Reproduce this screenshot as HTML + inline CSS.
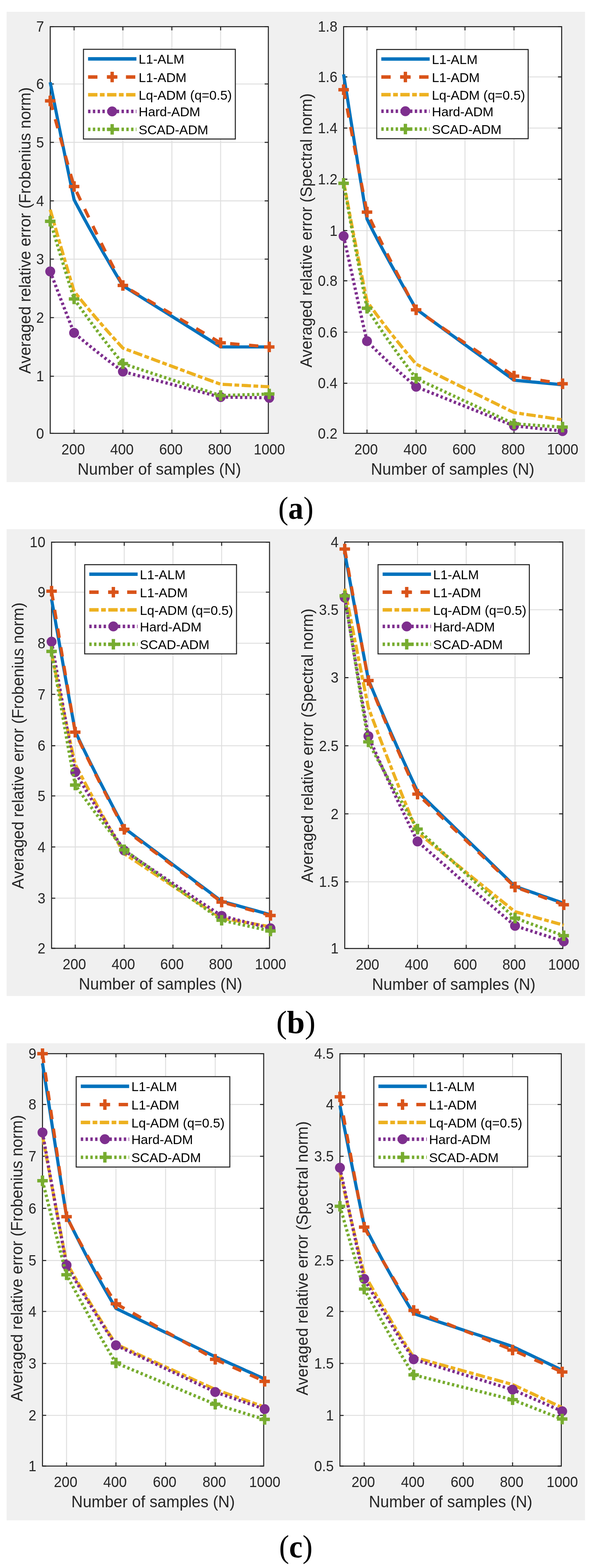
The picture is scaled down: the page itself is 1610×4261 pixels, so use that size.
<!DOCTYPE html>
<html><head><meta charset="utf-8"><title>Figure</title>
<style>html,body{margin:0;padding:0;background:#fff;}svg{display:block;}</style>
</head><body>
<svg width="1610" height="4261" viewBox="0 0 1610 4261" font-family="'Liberation Sans', Arial, Helvetica, sans-serif">
<rect width="1610" height="4261" fill="#fff"/>
<rect x="18" y="32" width="1573" height="1278" fill="#f0f0f0"/>
<rect x="18" y="1438" width="1573" height="1268.5" fill="#f0f0f0"/>
<rect x="18" y="2835" width="1573" height="1296.5" fill="#f0f0f0"/>
<rect x="136.6" y="72.5" width="593.2" height="1105.1" fill="#fff"/>
<path d="M201.5 72.5V1177.6M334.2 72.5V1177.6M467.4 72.5V1177.6M600.0 72.5V1177.6M136.6 1022.4H729.8M136.6 863.1H729.8M136.6 704.2H729.8M136.6 545.9H729.8M136.6 386.9H729.8M136.6 228.2H729.8" stroke="#dfdfdf" stroke-width="2.6" fill="none"/>
<path d="M201.5 1177.6v-10M201.5 72.5v10M334.2 1177.6v-10M334.2 72.5v10M467.4 1177.6v-10M467.4 72.5v10M600.0 1177.6v-10M600.0 72.5v10M136.6 1177.6h10M729.8 1177.6h-10M136.6 1022.4h10M729.8 1022.4h-10M136.6 863.1h10M729.8 863.1h-10M136.6 704.2h10M729.8 704.2h-10M136.6 545.9h10M729.8 545.9h-10M136.6 386.9h10M729.8 386.9h-10M136.6 228.2h10M729.8 228.2h-10M136.6 72.5h10M729.8 72.5h-10" stroke="#262626" stroke-width="2.8" fill="none"/>
<rect x="136.6" y="72.5" width="593.2" height="1105.1" fill="none" stroke="#262626" stroke-width="2.8"/>
<clipPath id="clipAL"><rect x="116.6" y="52.5" width="633.2" height="1145.1"/></clipPath>
<g><path d="M136.6 223.5L139.3 237.0L142.0 250.6L144.7 264.1L147.4 277.7L150.1 291.2L152.8 304.8L155.5 318.3L158.2 331.8L160.9 345.3L163.6 358.7L166.3 372.1L169.1 385.5L171.8 398.9L174.5 412.2L177.2 425.5L179.9 438.7L182.6 451.9L185.3 465.1L188.0 478.2L190.7 491.2L193.4 504.2L196.1 517.1L198.8 529.9L201.5 542.7L207.0 553.2L212.6 563.6L218.1 574.0L223.6 584.2L229.1 594.4L234.7 604.5L240.2 614.6L245.7 624.5L251.3 634.5L256.8 644.3L262.3 654.1L267.9 663.8L273.4 673.5L278.9 683.1L284.4 692.6L290.0 702.1L295.5 711.6L301.0 721.0L306.6 730.4L312.1 739.7L317.6 749.0L323.1 758.2L328.7 767.4L334.2 776.5L345.3 783.4L356.4 790.3L367.5 797.3L378.6 804.2L389.7 811.1L400.8 818.0L411.9 824.9L423.0 831.8L434.1 838.8L445.2 845.7L456.3 852.6L467.4 859.5L478.4 866.5L489.5 873.4L500.5 880.3L511.6 887.3L522.6 894.2L533.7 901.1L544.8 908.1L555.8 915.0L566.9 921.9L577.9 928.9L588.9 935.8L600.0 942.8L605.5 942.8L611.0 942.8L616.5 942.8L622.0 942.8L627.5 942.8L633.0 942.8L638.6 942.8L644.1 942.8L649.6 942.8L655.1 942.8L660.6 942.8L666.1 942.8L671.6 942.8L677.1 942.8L682.6 942.8L688.1 942.8L693.6 942.8L699.2 942.8L704.7 942.8L710.2 942.8L715.7 942.8L721.2 942.8L726.7 942.8L732.2 942.8" stroke="#0072BD" stroke-width="8.6" fill="none" stroke-linejoin="round"/><path d="M136.6 274.2L139.3 284.0L142.0 293.9L144.7 303.7L147.4 313.5L150.1 323.3L152.8 333.1L155.5 342.9L158.2 352.6L160.9 362.4L163.6 372.1L166.3 381.9L169.1 391.6L171.8 401.3L174.5 411.0L177.2 420.7L179.9 430.4L182.6 440.0L185.3 449.7L188.0 459.3L190.7 468.9L193.4 478.4L196.1 488.0L198.8 497.5L201.5 506.9L207.0 518.7L212.6 530.4L218.1 542.1L223.6 553.7L229.1 565.3L234.7 576.9L240.2 588.4L245.7 599.9L251.3 611.4L256.8 622.8L262.3 634.1L267.9 645.4L273.4 656.7L278.9 667.9L284.4 679.0L290.0 690.0L295.5 701.0L301.0 711.9L306.6 722.8L312.1 733.5L317.6 744.2L323.1 754.8L328.7 765.3L334.2 775.7L345.3 782.2L356.4 788.7L367.5 795.2L378.6 801.7L389.7 808.1L400.8 814.6L411.9 821.1L423.0 827.6L434.1 834.1L445.2 840.6L456.3 847.1L467.4 853.6L478.4 860.1L489.5 866.6L500.5 873.1L511.6 879.6L522.6 886.1L533.7 892.6L544.8 899.1L555.8 905.6L566.9 912.1L577.9 918.6L588.9 925.1L600.0 931.6L605.5 932.1L611.0 932.5L616.5 933.0L622.0 933.5L627.5 933.9L633.0 934.4L638.6 934.9L644.1 935.3L649.6 935.8L655.1 936.2L660.6 936.7L666.1 937.2L671.6 937.6L677.1 938.1L682.6 938.6L688.1 939.0L693.6 939.5L699.2 940.0L704.7 940.4L710.2 940.9L715.7 941.4L721.2 941.8L726.7 942.3L732.2 942.8" stroke="#D95319" stroke-width="8.6" fill="none" stroke-linejoin="round" stroke-dasharray="25.5 26"/><path d="M122.3 274.2H150.9M136.6 259.9V288.5" stroke="#D95319" stroke-width="9.2" fill="none"/><path d="M187.2 506.9H215.8M201.5 492.6V521.2" stroke="#D95319" stroke-width="9.2" fill="none"/><path d="M319.9 775.7H348.5M334.2 761.4V790.0" stroke="#D95319" stroke-width="9.2" fill="none"/><path d="M585.7 931.6H614.3M600.0 917.3V945.9" stroke="#D95319" stroke-width="9.2" fill="none"/><path d="M717.9 942.8H746.5M732.2 928.5V957.0" stroke="#D95319" stroke-width="9.2" fill="none"/><path d="M136.6 569.6L139.3 579.1L142.0 588.5L144.7 597.9L147.4 607.4L150.1 616.8L152.8 626.2L155.5 635.6L158.2 645.0L160.9 654.3L163.6 663.7L166.3 673.0L169.1 682.3L171.8 691.6L174.5 700.8L177.2 710.1L179.9 719.3L182.6 728.5L185.3 737.6L188.0 746.7L190.7 755.8L193.4 764.8L196.1 773.8L198.8 782.7L201.5 791.6L207.0 798.5L212.6 805.4L218.1 812.3L223.6 819.1L229.1 825.8L234.7 832.5L240.2 839.2L245.7 845.8L251.3 852.3L256.8 858.8L262.3 865.3L267.9 871.7L273.4 878.1L278.9 884.5L284.4 890.8L290.0 897.1L295.5 903.3L301.0 909.5L306.6 915.7L312.1 921.8L317.6 927.9L323.1 933.9L328.7 940.0L334.2 945.9L345.3 950.1L356.4 954.2L367.5 958.3L378.6 962.4L389.7 966.5L400.8 970.6L411.9 974.7L423.0 978.9L434.1 983.0L445.2 987.1L456.3 991.2L467.4 995.3L478.4 999.4L489.5 1003.5L500.5 1007.7L511.6 1011.8L522.6 1015.9L533.7 1020.0L544.8 1024.1L555.8 1028.1L566.9 1032.1L577.9 1036.1L588.9 1040.1L600.0 1044.1L605.5 1044.4L611.0 1044.7L616.5 1045.0L622.0 1045.3L627.5 1045.6L633.0 1045.9L638.6 1046.2L644.1 1046.5L649.6 1046.7L655.1 1047.0L660.6 1047.3L666.1 1047.6L671.6 1047.9L677.1 1048.2L682.6 1048.5L688.1 1048.8L693.6 1049.1L699.2 1049.4L704.7 1049.7L710.2 1049.9L715.7 1050.2L721.2 1050.5L726.7 1050.8L732.2 1051.1" stroke="#EDB120" stroke-width="8.6" fill="none" stroke-linejoin="round" stroke-dasharray="25.5 6.7 12.8 6.7"/><path d="M136.6 737.6L139.3 744.7L142.0 751.8L144.7 758.9L147.4 766.0L150.1 773.1L152.8 780.2L155.5 787.3L158.2 794.4L160.9 801.4L163.6 808.5L166.3 815.5L169.1 822.5L171.8 829.5L174.5 836.4L177.2 843.4L179.9 850.3L182.6 857.2L185.3 864.0L188.0 870.9L190.7 877.7L193.4 884.5L196.1 891.2L198.8 897.9L201.5 904.5L207.0 909.3L212.6 914.0L218.1 918.7L223.6 923.3L229.1 927.9L234.7 932.5L240.2 937.0L245.7 941.5L251.3 946.0L256.8 950.4L262.3 954.8L267.9 959.2L273.4 963.6L278.9 967.9L284.4 972.2L290.0 976.4L295.5 980.7L301.0 984.9L306.6 989.0L312.1 993.2L317.6 997.4L323.1 1001.5L328.7 1005.6L334.2 1009.7L345.3 1012.6L356.4 1015.6L367.5 1018.5L378.6 1021.5L389.7 1024.4L400.8 1027.2L411.9 1030.1L423.0 1033.0L434.1 1035.9L445.2 1038.8L456.3 1041.6L467.4 1044.5L478.4 1047.4L489.5 1050.3L500.5 1053.1L511.6 1056.0L522.6 1058.9L533.7 1061.8L544.8 1064.7L555.8 1067.5L566.9 1070.4L577.9 1073.3L588.9 1076.2L600.0 1079.0L605.5 1079.1L611.0 1079.2L616.5 1079.3L622.0 1079.4L627.5 1079.5L633.0 1079.6L638.6 1079.6L644.1 1079.7L649.6 1079.8L655.1 1079.9L660.6 1080.0L666.1 1080.1L671.6 1080.1L677.1 1080.2L682.6 1080.3L688.1 1080.4L693.6 1080.5L699.2 1080.6L704.7 1080.6L710.2 1080.7L715.7 1080.8L721.2 1080.9L726.7 1081.0L732.2 1081.1" stroke="#7E2F8E" stroke-width="8.6" fill="none" stroke-linejoin="round" stroke-dasharray="6.5 6.5"/><circle cx="136.6" cy="737.6" r="13.5" fill="#7E2F8E"/><circle cx="201.5" cy="904.5" r="13.5" fill="#7E2F8E"/><circle cx="334.2" cy="1009.7" r="13.5" fill="#7E2F8E"/><circle cx="600.0" cy="1079.0" r="13.5" fill="#7E2F8E"/><circle cx="732.2" cy="1081.1" r="13.5" fill="#7E2F8E"/><path d="M136.6 601.3L139.3 610.2L142.0 619.2L144.7 628.1L147.4 637.1L150.1 646.0L152.8 654.9L155.5 663.8L158.2 672.7L160.9 681.6L163.6 690.4L166.3 699.3L169.1 708.1L171.8 717.0L174.5 725.8L177.2 734.6L179.9 743.3L182.6 752.1L185.3 760.8L188.0 769.4L190.7 778.1L193.4 786.7L196.1 795.2L198.8 803.8L201.5 812.3L207.0 820.1L212.6 827.9L218.1 835.6L223.6 843.3L229.1 851.0L234.7 858.6L240.2 866.2L245.7 873.8L251.3 881.3L256.8 888.8L262.3 896.2L267.9 903.6L273.4 910.9L278.9 918.2L284.4 925.5L290.0 932.6L295.5 939.8L301.0 946.9L306.6 953.9L312.1 960.9L317.6 967.8L323.1 974.6L328.7 981.4L334.2 988.2L345.3 991.8L356.4 995.5L367.5 999.2L378.6 1002.8L389.7 1006.5L400.8 1010.2L411.9 1013.8L423.0 1017.5L434.1 1021.2L445.2 1024.8L456.3 1028.4L467.4 1031.9L478.4 1035.5L489.5 1039.1L500.5 1042.7L511.6 1046.2L522.6 1049.8L533.7 1053.4L544.8 1057.0L555.8 1060.6L566.9 1064.1L577.9 1067.7L588.9 1071.3L600.0 1074.9L605.5 1074.7L611.0 1074.5L616.5 1074.3L622.0 1074.2L627.5 1074.0L633.0 1073.8L638.6 1073.6L644.1 1073.5L649.6 1073.3L655.1 1073.1L660.6 1072.9L666.1 1072.8L671.6 1072.6L677.1 1072.4L682.6 1072.2L688.1 1072.1L693.6 1071.9L699.2 1071.7L704.7 1071.5L710.2 1071.4L715.7 1071.2L721.2 1071.0L726.7 1070.8L732.2 1070.7" stroke="#77AC30" stroke-width="8.6" fill="none" stroke-linejoin="round" stroke-dasharray="6.5 6.5"/><path d="M122.3 601.3H150.9M136.6 587.0V615.6" stroke="#77AC30" stroke-width="9.2" fill="none"/><path d="M187.2 812.3H215.8M201.5 798.0V826.6" stroke="#77AC30" stroke-width="9.2" fill="none"/><path d="M319.9 988.2H348.5M334.2 973.9V1002.5" stroke="#77AC30" stroke-width="9.2" fill="none"/><path d="M585.7 1074.9H614.3M600.0 1060.6V1089.2" stroke="#77AC30" stroke-width="9.2" fill="none"/><path d="M717.9 1070.7H746.5M732.2 1056.4V1085.0" stroke="#77AC30" stroke-width="9.2" fill="none"/></g>
<g font-size="41" fill="#262626"><text transform="translate(199.0 1235.0) scale(0.935 1)" text-anchor="middle">200</text><text transform="translate(331.7 1235.0) scale(0.935 1)" text-anchor="middle">400</text><text transform="translate(464.9 1235.0) scale(0.935 1)" text-anchor="middle">600</text><text transform="translate(597.5 1235.0) scale(0.935 1)" text-anchor="middle">800</text><text transform="translate(732.5 1235.0) scale(0.935 1)" text-anchor="middle">1000</text><text transform="translate(119.8 1191.5) scale(0.935 1)" text-anchor="end">0</text><text transform="translate(119.8 1036.3) scale(0.935 1)" text-anchor="end">1</text><text transform="translate(119.8 877.0) scale(0.935 1)" text-anchor="end">2</text><text transform="translate(119.8 718.1) scale(0.935 1)" text-anchor="end">3</text><text transform="translate(119.8 559.8) scale(0.935 1)" text-anchor="end">4</text><text transform="translate(119.8 400.8) scale(0.935 1)" text-anchor="end">5</text><text transform="translate(119.8 242.1) scale(0.935 1)" text-anchor="end">6</text><text transform="translate(119.8 86.4) scale(0.935 1)" text-anchor="end">7</text></g>
<text transform="translate(433.2 1289.9) scale(0.956 1)" text-anchor="middle" font-size="45" fill="#262626">Number of samples (N)</text>
<text transform="translate(82.9 626.5) rotate(-90) scale(0.956 1)" text-anchor="middle" font-size="45" fill="#262626">Averaged relative error (Frobenius norm)</text>
<rect x="227.0" y="134.0" width="413.0" height="243.8" fill="#fff" stroke="#262626" stroke-width="2.8"/>
<path d="M239.5 160.0H371.0" stroke="#0072BD" stroke-width="9.4" fill="none"/>
<text x="377.0" y="173.3" font-size="35.5" fill="#000">L1-ALM</text>
<path d="M239.5 209.2H371.0" stroke="#D95319" stroke-width="9.4" fill="none" stroke-dasharray="25.5 26"/>
<path d="M290.7 209.2H319.3M305.0 194.9V223.5" stroke="#D95319" stroke-width="9.2" fill="none"/>
<text x="377.0" y="222.5" font-size="35.5" fill="#000">L1-ADM</text>
<path d="M239.5 257.5H371.0" stroke="#EDB120" stroke-width="9.4" fill="none" stroke-dasharray="25.5 6.7 12.8 6.7"/>
<text x="377.0" y="270.8" font-size="35.5" fill="#000">Lq-ADM (q=0.5)</text>
<path d="M239.5 302.8H371.0" stroke="#7E2F8E" stroke-width="9.4" fill="none" stroke-dasharray="6.5 6.5"/>
<circle cx="305.0" cy="302.8" r="13.5" fill="#7E2F8E"/>
<text x="377.0" y="316.1" font-size="35.5" fill="#000">Hard-ADM</text>
<path d="M239.5 351.5H371.0" stroke="#77AC30" stroke-width="9.4" fill="none" stroke-dasharray="6.5 6.5"/>
<path d="M290.7 351.5H319.3M305.0 337.2V365.8" stroke="#77AC30" stroke-width="9.2" fill="none"/>
<text x="377.0" y="364.8" font-size="35.5" fill="#000">SCAD-ADM</text>
<rect x="934.5" y="72.5" width="593.0" height="1105.1" fill="#fff"/>
<path d="M998.1 72.5V1177.6M1131.7 72.5V1177.6M1264.6 72.5V1177.6M1397.9 72.5V1177.6M934.5 1041.5H1527.5M934.5 902.7H1527.5M934.5 763.0H1527.5M934.5 626.7H1527.5M934.5 487.0H1527.5M934.5 348.0H1527.5M934.5 209.0H1527.5" stroke="#dfdfdf" stroke-width="2.6" fill="none"/>
<path d="M998.1 1177.6v-10M998.1 72.5v10M1131.7 1177.6v-10M1131.7 72.5v10M1264.6 1177.6v-10M1264.6 72.5v10M1397.9 1177.6v-10M1397.9 72.5v10M934.5 1177.6h10M1527.5 1177.6h-10M934.5 1041.5h10M1527.5 1041.5h-10M934.5 902.7h10M1527.5 902.7h-10M934.5 763.0h10M1527.5 763.0h-10M934.5 626.7h10M1527.5 626.7h-10M934.5 487.0h10M1527.5 487.0h-10M934.5 348.0h10M1527.5 348.0h-10M934.5 209.0h10M1527.5 209.0h-10M934.5 72.5h10M1527.5 72.5h-10" stroke="#262626" stroke-width="2.8" fill="none"/>
<rect x="934.5" y="72.5" width="593.0" height="1105.1" fill="none" stroke="#262626" stroke-width="2.8"/>
<clipPath id="clipAR"><rect x="914.5" y="52.5" width="633.0" height="1145.1"/></clipPath>
<g><path d="M934.5 202.2L937.1 218.8L939.8 235.5L942.5 252.3L945.1 269.0L947.8 285.7L950.4 302.4L953.0 319.1L955.7 335.7L958.4 352.3L961.0 368.9L963.6 385.4L966.3 401.9L969.0 418.4L971.6 434.8L974.2 451.1L976.9 467.4L979.5 483.6L982.2 499.8L984.9 515.9L987.5 532.0L990.1 547.9L992.8 563.8L995.5 579.6L998.1 595.3L1003.7 606.5L1009.2 617.6L1014.8 628.6L1020.4 639.3L1025.9 649.9L1031.5 660.4L1037.1 670.8L1042.6 681.1L1048.2 691.3L1053.8 701.5L1059.3 711.6L1064.9 721.6L1070.5 731.6L1076.0 741.5L1081.6 751.4L1087.2 761.2L1092.7 771.1L1098.3 781.1L1103.9 790.9L1109.4 800.8L1115.0 810.6L1120.6 820.4L1126.1 830.1L1131.7 839.8L1142.8 847.9L1153.8 856.0L1164.9 864.1L1176.0 872.2L1187.1 880.3L1198.2 888.4L1209.2 896.5L1220.3 904.6L1231.4 912.6L1242.4 920.6L1253.5 928.7L1264.6 936.7L1275.7 944.7L1286.8 952.8L1297.9 960.8L1309.0 968.9L1320.1 976.9L1331.2 984.9L1342.4 993.0L1353.5 1001.0L1364.6 1009.1L1375.7 1017.1L1386.8 1025.1L1397.9 1033.2L1403.4 1033.7L1408.9 1034.2L1414.4 1034.7L1419.9 1035.3L1425.4 1035.8L1430.9 1036.3L1436.4 1036.8L1441.9 1037.3L1447.4 1037.9L1452.9 1038.4L1458.4 1038.9L1463.9 1039.4L1469.4 1039.9L1474.9 1040.5L1480.4 1041.0L1485.9 1041.5L1491.4 1042.0L1496.9 1042.5L1502.4 1043.0L1507.9 1043.5L1513.4 1044.1L1518.9 1044.6L1524.4 1045.1L1529.9 1045.6" stroke="#0072BD" stroke-width="8.6" fill="none" stroke-linejoin="round"/><path d="M934.5 243.8L937.1 257.9L939.8 272.0L942.5 286.1L945.1 300.2L947.8 314.3L950.4 328.4L953.0 342.4L955.7 356.4L958.4 370.5L961.0 384.4L963.6 398.4L966.3 412.3L969.0 426.2L971.6 440.1L974.2 453.9L976.9 467.7L979.5 481.4L982.2 495.1L984.9 508.8L987.5 522.4L990.1 536.0L992.8 549.6L995.5 563.0L998.1 576.4L1003.7 588.4L1009.2 600.3L1014.8 612.2L1020.4 624.0L1025.9 635.5L1031.5 646.8L1037.1 658.1L1042.6 669.3L1048.2 680.5L1053.8 691.6L1059.3 702.6L1064.9 713.6L1070.5 724.4L1076.0 735.3L1081.6 746.0L1087.2 756.7L1092.7 767.5L1098.3 778.3L1103.9 789.1L1109.4 799.8L1115.0 810.4L1120.6 821.0L1126.1 831.5L1131.7 841.9L1142.8 849.5L1153.8 857.0L1164.9 864.5L1176.0 872.1L1187.1 879.6L1198.2 887.2L1209.2 894.7L1220.3 902.2L1231.4 909.7L1242.4 917.2L1253.5 924.7L1264.6 932.2L1275.7 939.7L1286.8 947.2L1297.9 954.7L1309.0 962.2L1320.1 969.6L1331.2 977.1L1342.4 984.6L1353.5 992.1L1364.6 999.6L1375.7 1007.1L1386.8 1014.6L1397.9 1022.1L1403.4 1022.9L1408.9 1023.8L1414.4 1024.7L1419.9 1025.5L1425.4 1026.4L1430.9 1027.3L1436.4 1028.1L1441.9 1029.0L1447.4 1029.9L1452.9 1030.7L1458.4 1031.6L1463.9 1032.5L1469.4 1033.3L1474.9 1034.2L1480.4 1035.1L1485.9 1035.9L1491.4 1036.8L1496.9 1037.7L1502.4 1038.6L1507.9 1039.4L1513.4 1040.3L1518.9 1041.2L1524.4 1042.0L1529.9 1042.9" stroke="#D95319" stroke-width="8.6" fill="none" stroke-linejoin="round" stroke-dasharray="25.5 26"/><path d="M920.2 243.8H948.8M934.5 229.4V258.1" stroke="#D95319" stroke-width="9.2" fill="none"/><path d="M983.8 576.4H1012.4M998.1 562.1V590.7" stroke="#D95319" stroke-width="9.2" fill="none"/><path d="M1117.4 841.9H1146.0M1131.7 827.6V856.2" stroke="#D95319" stroke-width="9.2" fill="none"/><path d="M1383.6 1022.1H1412.2M1397.9 1007.8V1036.4" stroke="#D95319" stroke-width="9.2" fill="none"/><path d="M1515.6 1042.9H1544.2M1529.9 1028.6V1057.2" stroke="#D95319" stroke-width="9.2" fill="none"/><path d="M934.5 494.0L937.1 508.0L939.8 522.0L942.5 536.0L945.1 550.1L947.8 564.1L950.4 578.1L953.0 592.0L955.7 606.0L958.4 619.9L961.0 633.6L963.6 647.1L966.3 660.6L969.0 674.0L971.6 687.4L974.2 700.7L976.9 714.0L979.5 727.2L982.2 740.3L984.9 753.4L987.5 766.5L990.1 779.7L992.8 792.9L995.5 805.9L998.1 818.9L1003.7 826.7L1009.2 834.5L1014.8 842.1L1020.4 849.7L1025.9 857.2L1031.5 864.7L1037.1 872.0L1042.6 879.4L1048.2 886.6L1053.8 893.8L1059.3 900.9L1064.9 908.0L1070.5 914.9L1076.0 921.9L1081.6 928.8L1087.2 935.6L1092.7 942.5L1098.3 949.2L1103.9 956.0L1109.4 962.7L1115.0 969.4L1120.6 976.1L1126.1 982.8L1131.7 989.5L1142.8 995.0L1153.8 1000.6L1164.9 1006.1L1176.0 1011.7L1187.1 1017.2L1198.2 1022.8L1209.2 1028.3L1220.3 1033.9L1231.4 1039.4L1242.4 1044.9L1253.5 1050.3L1264.6 1055.8L1275.7 1061.2L1286.8 1066.7L1297.9 1072.1L1309.0 1077.6L1320.1 1083.0L1331.2 1088.5L1342.4 1093.9L1353.5 1099.3L1364.6 1104.8L1375.7 1110.2L1386.8 1115.7L1397.9 1121.1L1403.4 1121.9L1408.9 1122.8L1414.4 1123.6L1419.9 1124.4L1425.4 1125.2L1430.9 1126.1L1436.4 1126.9L1441.9 1127.7L1447.4 1128.5L1452.9 1129.3L1458.4 1130.2L1463.9 1131.0L1469.4 1131.8L1474.9 1132.6L1480.4 1133.5L1485.9 1134.3L1491.4 1135.1L1496.9 1135.9L1502.4 1136.7L1507.9 1137.6L1513.4 1138.4L1518.9 1139.2L1524.4 1140.0L1529.9 1140.9" stroke="#EDB120" stroke-width="8.6" fill="none" stroke-linejoin="round" stroke-dasharray="25.5 6.7 12.8 6.7"/><path d="M934.5 641.7L937.1 653.7L939.8 665.8L942.5 677.8L945.1 689.9L947.8 701.9L950.4 713.9L953.0 725.9L955.7 737.9L958.4 749.8L961.0 761.8L963.6 773.9L966.3 786.1L969.0 798.2L971.6 810.2L974.2 822.2L976.9 834.2L979.5 846.1L982.2 857.9L984.9 869.6L987.5 881.3L990.1 892.9L992.8 904.4L995.5 915.7L998.1 927.0L1003.7 932.7L1009.2 938.4L1014.8 944.0L1020.4 949.5L1025.9 955.0L1031.5 960.4L1037.1 965.7L1042.6 971.0L1048.2 976.3L1053.8 981.5L1059.3 986.6L1064.9 991.7L1070.5 996.8L1076.0 1001.9L1081.6 1006.9L1087.2 1011.9L1092.7 1016.8L1098.3 1021.8L1103.9 1026.7L1109.4 1031.6L1115.0 1036.5L1120.6 1041.4L1126.1 1046.2L1131.7 1051.0L1142.8 1055.5L1153.8 1059.9L1164.9 1064.3L1176.0 1068.7L1187.1 1073.1L1198.2 1077.6L1209.2 1082.0L1220.3 1086.4L1231.4 1090.8L1242.4 1095.3L1253.5 1099.7L1264.6 1104.1L1275.7 1108.5L1286.8 1113.0L1297.9 1117.4L1309.0 1121.8L1320.1 1126.2L1331.2 1130.6L1342.4 1135.1L1353.5 1139.5L1364.6 1143.9L1375.7 1148.3L1386.8 1152.8L1397.9 1157.2L1403.4 1157.8L1408.9 1158.4L1414.4 1159.0L1419.9 1159.6L1425.4 1160.2L1430.9 1160.8L1436.4 1161.4L1441.9 1161.9L1447.4 1162.5L1452.9 1163.1L1458.4 1163.7L1463.9 1164.3L1469.4 1164.9L1474.9 1165.5L1480.4 1166.1L1485.9 1166.7L1491.4 1167.3L1496.9 1167.9L1502.4 1168.5L1507.9 1169.1L1513.4 1169.7L1518.9 1170.3L1524.4 1170.9L1529.9 1171.5" stroke="#7E2F8E" stroke-width="8.6" fill="none" stroke-linejoin="round" stroke-dasharray="6.5 6.5"/><circle cx="934.5" cy="641.7" r="13.5" fill="#7E2F8E"/><circle cx="998.1" cy="927.0" r="13.5" fill="#7E2F8E"/><circle cx="1131.7" cy="1051.0" r="13.5" fill="#7E2F8E"/><circle cx="1397.9" cy="1157.2" r="13.5" fill="#7E2F8E"/><circle cx="1529.9" cy="1171.5" r="13.5" fill="#7E2F8E"/><path d="M934.5 498.2L937.1 512.8L939.8 527.5L942.5 542.1L945.1 556.7L947.8 571.3L950.4 585.9L953.0 600.5L955.7 615.1L958.4 629.5L961.0 643.7L963.6 657.8L966.3 671.9L969.0 685.9L971.6 699.8L974.2 713.8L976.9 727.6L979.5 741.4L982.2 755.2L984.9 769.0L987.5 782.9L990.1 796.7L992.8 810.5L995.5 824.2L998.1 837.7L1003.7 846.5L1009.2 855.1L1014.8 863.7L1020.4 872.2L1025.9 880.6L1031.5 888.9L1037.1 897.2L1042.6 905.4L1048.2 913.4L1053.8 921.5L1059.3 929.4L1064.9 937.3L1070.5 945.1L1076.0 952.9L1081.6 960.7L1087.2 968.3L1092.7 976.0L1098.3 983.6L1103.9 991.1L1109.4 998.6L1115.0 1006.1L1120.6 1013.5L1126.1 1020.9L1131.7 1028.3L1142.8 1033.5L1153.8 1038.8L1164.9 1044.0L1176.0 1049.1L1187.1 1054.2L1198.2 1059.4L1209.2 1064.5L1220.3 1069.6L1231.4 1074.8L1242.4 1079.9L1253.5 1085.0L1264.6 1090.2L1275.7 1095.3L1286.8 1100.4L1297.9 1105.6L1309.0 1110.7L1320.1 1115.8L1331.2 1120.9L1342.4 1126.1L1353.5 1131.2L1364.6 1136.3L1375.7 1141.5L1386.8 1146.6L1397.9 1151.7L1403.4 1152.1L1408.9 1152.5L1414.4 1152.8L1419.9 1153.2L1425.4 1153.6L1430.9 1154.0L1436.4 1154.3L1441.9 1154.7L1447.4 1155.1L1452.9 1155.4L1458.4 1155.8L1463.9 1156.2L1469.4 1156.5L1474.9 1156.9L1480.4 1157.3L1485.9 1157.6L1491.4 1158.0L1496.9 1158.4L1502.4 1158.7L1507.9 1159.1L1513.4 1159.5L1518.9 1159.9L1524.4 1160.2L1529.9 1160.6" stroke="#77AC30" stroke-width="8.6" fill="none" stroke-linejoin="round" stroke-dasharray="6.5 6.5"/><path d="M920.2 498.2H948.8M934.5 483.9V512.5" stroke="#77AC30" stroke-width="9.2" fill="none"/><path d="M983.8 837.7H1012.4M998.1 823.4V852.0" stroke="#77AC30" stroke-width="9.2" fill="none"/><path d="M1117.4 1028.3H1146.0M1131.7 1014.0V1042.6" stroke="#77AC30" stroke-width="9.2" fill="none"/><path d="M1383.6 1151.7H1412.2M1397.9 1137.4V1166.0" stroke="#77AC30" stroke-width="9.2" fill="none"/><path d="M1515.6 1160.6H1544.2M1529.9 1146.3V1174.9" stroke="#77AC30" stroke-width="9.2" fill="none"/></g>
<g font-size="41" fill="#262626"><text transform="translate(995.6 1235.0) scale(0.935 1)" text-anchor="middle">200</text><text transform="translate(1129.2 1235.0) scale(0.935 1)" text-anchor="middle">400</text><text transform="translate(1262.1 1235.0) scale(0.935 1)" text-anchor="middle">600</text><text transform="translate(1395.4 1235.0) scale(0.935 1)" text-anchor="middle">800</text><text transform="translate(1530.2 1235.0) scale(0.935 1)" text-anchor="middle">1000</text><text transform="translate(917.7 1191.5) scale(0.935 1)" text-anchor="end">0.2</text><text transform="translate(917.7 1055.4) scale(0.935 1)" text-anchor="end">0.4</text><text transform="translate(917.7 916.6) scale(0.935 1)" text-anchor="end">0.6</text><text transform="translate(917.7 776.9) scale(0.935 1)" text-anchor="end">0.8</text><text transform="translate(917.7 640.6) scale(0.935 1)" text-anchor="end">1</text><text transform="translate(917.7 500.9) scale(0.935 1)" text-anchor="end">1.2</text><text transform="translate(917.7 361.9) scale(0.935 1)" text-anchor="end">1.4</text><text transform="translate(917.7 222.9) scale(0.935 1)" text-anchor="end">1.6</text><text transform="translate(917.7 86.4) scale(0.935 1)" text-anchor="end">1.8</text></g>
<text transform="translate(1231.0 1289.9) scale(0.956 1)" text-anchor="middle" font-size="45" fill="#262626">Number of samples (N)</text>
<text transform="translate(847.8 626.3) rotate(-90) scale(0.956 1)" text-anchor="middle" font-size="45" fill="#262626">Averaged relative error (Spectral norm)</text>
<rect x="1024.5" y="134.5" width="411.9" height="242.4" fill="#fff" stroke="#262626" stroke-width="2.8"/>
<path d="M1037.0 160.4H1168.5" stroke="#0072BD" stroke-width="9.4" fill="none"/>
<text x="1174.5" y="173.7" font-size="35.5" fill="#000">L1-ALM</text>
<path d="M1037.0 209.3H1168.5" stroke="#D95319" stroke-width="9.4" fill="none" stroke-dasharray="25.5 26"/>
<path d="M1088.2 209.3H1116.8M1102.5 195.0V223.6" stroke="#D95319" stroke-width="9.2" fill="none"/>
<text x="1174.5" y="222.6" font-size="35.5" fill="#000">L1-ADM</text>
<path d="M1037.0 257.3H1168.5" stroke="#EDB120" stroke-width="9.4" fill="none" stroke-dasharray="25.5 6.7 12.8 6.7"/>
<text x="1174.5" y="270.6" font-size="35.5" fill="#000">Lq-ADM (q=0.5)</text>
<path d="M1037.0 302.3H1168.5" stroke="#7E2F8E" stroke-width="9.4" fill="none" stroke-dasharray="6.5 6.5"/>
<circle cx="1102.5" cy="302.3" r="13.5" fill="#7E2F8E"/>
<text x="1174.5" y="315.6" font-size="35.5" fill="#000">Hard-ADM</text>
<path d="M1037.0 350.8H1168.5" stroke="#77AC30" stroke-width="9.4" fill="none" stroke-dasharray="6.5 6.5"/>
<path d="M1088.2 350.8H1116.8M1102.5 336.5V365.1" stroke="#77AC30" stroke-width="9.2" fill="none"/>
<text x="1174.5" y="364.1" font-size="35.5" fill="#000">SCAD-ADM</text>
<rect x="140.3" y="1473.3" width="592.7" height="1103.7" fill="#fff"/>
<path d="M204.6 1473.3V2577.0M337.9 1473.3V2577.0M470.3 1473.3V2577.0M602.8 1473.3V2577.0M140.3 2440.8H733.0M140.3 2301.6H733.0M140.3 2162.9H733.0M140.3 2026.5H733.0M140.3 1886.9H733.0M140.3 1748.0H733.0M140.3 1609.2H733.0" stroke="#dfdfdf" stroke-width="2.6" fill="none"/>
<path d="M204.6 2577.0v-10M204.6 1473.3v10M337.9 2577.0v-10M337.9 1473.3v10M470.3 2577.0v-10M470.3 1473.3v10M602.8 2577.0v-10M602.8 1473.3v10M140.3 2577.0h10M733.0 2577.0h-10M140.3 2440.8h10M733.0 2440.8h-10M140.3 2301.6h10M733.0 2301.6h-10M140.3 2162.9h10M733.0 2162.9h-10M140.3 2026.5h10M733.0 2026.5h-10M140.3 1886.9h10M733.0 1886.9h-10M140.3 1748.0h10M733.0 1748.0h-10M140.3 1609.2h10M733.0 1609.2h-10M140.3 1473.3h10M733.0 1473.3h-10" stroke="#262626" stroke-width="2.8" fill="none"/>
<rect x="140.3" y="1473.3" width="592.7" height="1103.7" fill="none" stroke="#262626" stroke-width="2.8"/>
<clipPath id="clipBL"><rect x="120.3" y="1453.3" width="632.7" height="1143.7"/></clipPath>
<g><path d="M140.3 1628.6L143.0 1643.9L145.7 1659.1L148.3 1674.3L151.0 1689.5L153.7 1704.7L156.4 1719.9L159.1 1735.1L161.7 1750.3L164.4 1765.4L167.1 1780.5L169.8 1795.6L172.4 1810.6L175.1 1825.6L177.8 1840.5L180.5 1855.4L183.2 1870.3L185.8 1885.1L188.5 1899.9L191.2 1914.7L193.9 1929.4L196.6 1944.0L199.2 1958.5L201.9 1973.0L204.6 1987.4L210.2 1999.4L215.7 2011.2L221.3 2023.0L226.8 2034.5L232.4 2045.9L237.9 2057.2L243.5 2068.4L249.0 2079.5L254.6 2090.5L260.1 2101.5L265.7 2112.4L271.2 2123.3L276.8 2134.1L282.4 2144.8L287.9 2155.4L293.5 2166.1L299.0 2176.8L304.6 2187.4L310.1 2198.0L315.7 2208.6L321.2 2219.1L326.8 2229.5L332.3 2239.9L337.9 2250.3L348.9 2258.5L360.0 2266.8L371.0 2275.1L382.0 2283.3L393.1 2291.6L404.1 2299.9L415.1 2308.2L426.2 2316.4L437.2 2324.7L448.2 2333.0L459.3 2341.3L470.3 2349.6L481.3 2357.9L492.4 2366.2L503.4 2374.5L514.5 2382.8L525.5 2391.1L536.5 2399.4L547.6 2407.7L558.6 2416.0L569.7 2424.3L580.7 2432.6L591.8 2440.9L602.8 2449.0L608.3 2450.5L613.9 2452.0L619.4 2453.6L624.9 2455.1L630.4 2456.6L636.0 2458.2L641.5 2459.7L647.0 2461.2L652.6 2462.8L658.1 2464.3L663.6 2465.8L669.1 2467.4L674.7 2468.9L680.2 2470.4L685.7 2472.0L691.3 2473.5L696.8 2475.0L702.3 2476.6L707.9 2478.1L713.4 2479.6L718.9 2481.1L724.4 2482.7L730.0 2484.2L735.5 2485.7" stroke="#0072BD" stroke-width="8.6" fill="none" stroke-linejoin="round"/><path d="M140.3 1606.5L143.0 1622.7L145.7 1639.0L148.3 1655.3L151.0 1671.5L153.7 1687.8L156.4 1704.0L159.1 1720.3L161.7 1736.5L164.4 1752.6L167.1 1768.8L169.8 1784.9L172.4 1800.9L175.1 1817.0L177.8 1832.9L180.5 1848.9L183.2 1864.7L185.8 1880.5L188.5 1896.3L191.2 1912.1L193.9 1927.7L196.6 1943.3L199.2 1958.9L201.9 1974.3L204.6 1989.6L210.2 2001.7L215.7 2013.7L221.3 2025.5L226.8 2037.1L232.4 2048.5L237.9 2059.8L243.5 2071.1L249.0 2082.2L254.6 2093.3L260.1 2104.4L265.7 2115.3L271.2 2126.2L276.8 2137.0L282.4 2147.7L287.9 2158.4L293.5 2169.2L299.0 2179.9L304.6 2190.6L310.1 2201.2L315.7 2211.8L321.2 2222.3L326.8 2232.8L332.3 2243.2L337.9 2253.6L348.9 2261.8L360.0 2270.1L371.0 2278.3L382.0 2286.5L393.1 2294.7L404.1 2303.0L415.1 2311.2L426.2 2319.5L437.2 2327.7L448.2 2336.0L459.3 2344.2L470.3 2352.5L481.3 2360.7L492.4 2369.0L503.4 2377.2L514.5 2385.5L525.5 2393.7L536.5 2402.0L547.6 2410.3L558.6 2418.5L569.7 2426.8L580.7 2435.0L591.8 2443.2L602.8 2451.3L608.3 2452.8L613.9 2454.3L619.4 2455.9L624.9 2457.4L630.4 2458.9L636.0 2460.4L641.5 2461.9L647.0 2463.5L652.6 2465.0L658.1 2466.5L663.6 2468.0L669.1 2469.5L674.7 2471.1L680.2 2472.6L685.7 2474.1L691.3 2475.6L696.8 2477.1L702.3 2478.7L707.9 2480.2L713.4 2481.7L718.9 2483.2L724.4 2484.7L730.0 2486.3L735.5 2487.8" stroke="#D95319" stroke-width="8.6" fill="none" stroke-linejoin="round" stroke-dasharray="25.5 26"/><path d="M126.0 1606.5H154.6M140.3 1592.2V1620.8" stroke="#D95319" stroke-width="9.2" fill="none"/><path d="M190.3 1989.6H218.9M204.6 1975.3V2003.9" stroke="#D95319" stroke-width="9.2" fill="none"/><path d="M323.6 2253.6H352.2M337.9 2239.3V2267.9" stroke="#D95319" stroke-width="9.2" fill="none"/><path d="M588.5 2451.3H617.1M602.8 2437.0V2465.6" stroke="#D95319" stroke-width="9.2" fill="none"/><path d="M721.2 2487.8H749.8M735.5 2473.5V2502.1" stroke="#D95319" stroke-width="9.2" fill="none"/><path d="M140.3 1775.8L143.0 1788.6L145.7 1801.4L148.3 1814.2L151.0 1827.0L153.7 1839.8L156.4 1852.5L159.1 1865.3L161.7 1878.0L164.4 1890.7L167.1 1903.5L169.8 1916.2L172.4 1928.9L175.1 1941.6L177.8 1954.2L180.5 1966.8L183.2 1979.4L185.8 1991.9L188.5 2004.4L191.2 2016.8L193.9 2029.1L196.6 2041.2L199.2 2053.2L201.9 2065.1L204.6 2077.0L210.2 2087.7L215.7 2098.3L221.3 2108.9L226.8 2119.4L232.4 2129.8L237.9 2140.2L243.5 2150.5L249.0 2160.8L254.6 2171.1L260.1 2181.4L265.7 2191.7L271.2 2201.8L276.8 2212.0L282.4 2222.0L287.9 2232.0L293.5 2242.0L299.0 2251.9L304.6 2261.7L310.1 2271.5L315.7 2281.2L321.2 2290.9L326.8 2300.5L332.3 2310.1L337.9 2319.7L348.9 2327.1L360.0 2334.4L371.0 2341.8L382.0 2349.2L393.1 2356.5L404.1 2363.9L415.1 2371.3L426.2 2378.6L437.2 2386.0L448.2 2393.4L459.3 2400.7L470.3 2408.1L481.3 2415.5L492.4 2422.8L503.4 2430.2L514.5 2437.6L525.5 2444.8L536.5 2452.0L547.6 2459.2L558.6 2466.5L569.7 2473.7L580.7 2480.9L591.8 2488.1L602.8 2495.3L608.3 2496.2L613.9 2497.2L619.4 2498.2L624.9 2499.1L630.4 2500.1L636.0 2501.1L641.5 2502.0L647.0 2503.0L652.6 2504.0L658.1 2504.9L663.6 2505.9L669.1 2506.9L674.7 2507.8L680.2 2508.8L685.7 2509.8L691.3 2510.7L696.8 2511.7L702.3 2512.6L707.9 2513.6L713.4 2514.6L718.9 2515.5L724.4 2516.5L730.0 2517.5L735.5 2518.4" stroke="#EDB120" stroke-width="8.6" fill="none" stroke-linejoin="round" stroke-dasharray="25.5 6.7 12.8 6.7"/><path d="M140.3 1743.8L143.0 1759.0L145.7 1774.1L148.3 1789.2L151.0 1804.4L153.7 1819.5L156.4 1834.6L159.1 1849.6L161.7 1864.7L164.4 1879.7L167.1 1894.7L169.8 1909.8L172.4 1924.7L175.1 1939.7L177.8 1954.6L180.5 1969.4L183.2 1984.2L185.8 1998.9L188.5 2013.5L191.2 2028.1L193.9 2042.3L196.6 2056.3L199.2 2070.4L201.9 2084.3L204.6 2098.1L210.2 2107.7L215.7 2117.1L221.3 2126.5L226.8 2135.8L232.4 2145.0L237.9 2154.2L243.5 2163.2L249.0 2172.4L254.6 2181.4L260.1 2190.4L265.7 2199.4L271.2 2208.3L276.8 2217.1L282.4 2225.8L287.9 2234.6L293.5 2243.2L299.0 2251.8L304.6 2260.4L310.1 2269.0L315.7 2277.5L321.2 2286.0L326.8 2294.4L332.3 2302.9L337.9 2311.3L348.9 2318.8L360.0 2326.2L371.0 2333.7L382.0 2341.1L393.1 2348.6L404.1 2356.0L415.1 2363.4L426.2 2370.9L437.2 2378.3L448.2 2385.8L459.3 2393.2L470.3 2400.6L481.3 2408.1L492.4 2415.5L503.4 2423.0L514.5 2430.4L525.5 2437.8L536.5 2445.2L547.6 2452.5L558.6 2459.8L569.7 2467.0L580.7 2474.3L591.8 2481.6L602.8 2488.9L608.3 2490.3L613.9 2491.7L619.4 2493.1L624.9 2494.5L630.4 2495.9L636.0 2497.3L641.5 2498.7L647.0 2500.1L652.6 2501.5L658.1 2502.9L663.6 2504.3L669.1 2505.7L674.7 2507.1L680.2 2508.5L685.7 2509.9L691.3 2511.3L696.8 2512.7L702.3 2514.1L707.9 2515.5L713.4 2516.9L718.9 2518.3L724.4 2519.7L730.0 2521.1L735.5 2522.5" stroke="#7E2F8E" stroke-width="8.6" fill="none" stroke-linejoin="round" stroke-dasharray="6.5 6.5"/><circle cx="140.3" cy="1743.8" r="13.5" fill="#7E2F8E"/><circle cx="204.6" cy="2098.1" r="13.5" fill="#7E2F8E"/><circle cx="337.9" cy="2311.3" r="13.5" fill="#7E2F8E"/><circle cx="602.8" cy="2488.9" r="13.5" fill="#7E2F8E"/><circle cx="735.5" cy="2522.5" r="13.5" fill="#7E2F8E"/><path d="M140.3 1770.2L143.0 1785.8L145.7 1801.4L148.3 1816.9L151.0 1832.5L153.7 1848.1L156.4 1863.6L159.1 1879.1L161.7 1894.6L164.4 1910.2L167.1 1925.7L169.8 1941.1L172.4 1956.5L175.1 1971.9L177.8 1987.2L180.5 2002.4L183.2 2017.6L185.8 2032.5L188.5 2047.2L191.2 2061.8L193.9 2076.3L196.6 2090.7L199.2 2105.0L201.9 2119.2L204.6 2133.3L210.2 2141.3L215.7 2149.1L221.3 2156.9L226.8 2164.6L232.4 2172.3L237.9 2179.9L243.5 2187.5L249.0 2195.0L254.6 2202.4L260.1 2209.8L265.7 2217.1L271.2 2224.3L276.8 2231.5L282.4 2238.7L287.9 2245.8L293.5 2252.9L299.0 2260.0L304.6 2267.0L310.1 2274.1L315.7 2281.1L321.2 2288.1L326.8 2295.2L332.3 2302.2L337.9 2309.3L348.9 2317.3L360.0 2325.3L371.0 2333.4L382.0 2341.4L393.1 2349.4L404.1 2357.5L415.1 2365.5L426.2 2373.5L437.2 2381.6L448.2 2389.6L459.3 2397.6L470.3 2405.7L481.3 2413.7L492.4 2421.7L503.4 2429.8L514.5 2437.8L525.5 2445.7L536.5 2453.6L547.6 2461.4L558.6 2469.3L569.7 2477.1L580.7 2485.0L591.8 2492.9L602.8 2500.7L608.3 2501.9L613.9 2503.2L619.4 2504.4L624.9 2505.6L630.4 2506.8L636.0 2508.0L641.5 2509.2L647.0 2510.4L652.6 2511.7L658.1 2512.9L663.6 2514.1L669.1 2515.3L674.7 2516.5L680.2 2517.7L685.7 2518.9L691.3 2520.2L696.8 2521.4L702.3 2522.6L707.9 2523.8L713.4 2525.0L718.9 2526.2L724.4 2527.4L730.0 2528.7L735.5 2529.9" stroke="#77AC30" stroke-width="8.6" fill="none" stroke-linejoin="round" stroke-dasharray="6.5 6.5"/><path d="M126.0 1770.2H154.6M140.3 1755.9V1784.5" stroke="#77AC30" stroke-width="9.2" fill="none"/><path d="M190.3 2133.3H218.9M204.6 2119.0V2147.6" stroke="#77AC30" stroke-width="9.2" fill="none"/><path d="M323.6 2309.3H352.2M337.9 2295.0V2323.6" stroke="#77AC30" stroke-width="9.2" fill="none"/><path d="M588.5 2500.7H617.1M602.8 2486.4V2515.0" stroke="#77AC30" stroke-width="9.2" fill="none"/><path d="M721.2 2529.9H749.8M735.5 2515.6V2544.2" stroke="#77AC30" stroke-width="9.2" fill="none"/></g>
<g font-size="41" fill="#262626"><text transform="translate(202.1 2634.4) scale(0.935 1)" text-anchor="middle">200</text><text transform="translate(335.4 2634.4) scale(0.935 1)" text-anchor="middle">400</text><text transform="translate(467.8 2634.4) scale(0.935 1)" text-anchor="middle">600</text><text transform="translate(600.3 2634.4) scale(0.935 1)" text-anchor="middle">800</text><text transform="translate(735.8 2634.4) scale(0.935 1)" text-anchor="middle">1000</text><text transform="translate(123.5 2590.9) scale(0.935 1)" text-anchor="end">2</text><text transform="translate(123.5 2454.7) scale(0.935 1)" text-anchor="end">3</text><text transform="translate(123.5 2315.5) scale(0.935 1)" text-anchor="end">4</text><text transform="translate(123.5 2176.8) scale(0.935 1)" text-anchor="end">5</text><text transform="translate(123.5 2040.4) scale(0.935 1)" text-anchor="end">6</text><text transform="translate(123.5 1900.8) scale(0.935 1)" text-anchor="end">7</text><text transform="translate(123.5 1761.9) scale(0.935 1)" text-anchor="end">8</text><text transform="translate(123.5 1623.1) scale(0.935 1)" text-anchor="end">9</text><text transform="translate(123.5 1487.2) scale(0.935 1)" text-anchor="end">10</text></g>
<text transform="translate(436.6 2689.3) scale(0.956 1)" text-anchor="middle" font-size="45" fill="#262626">Number of samples (N)</text>
<text transform="translate(63.8 2026.5) rotate(-90) scale(0.956 1)" text-anchor="middle" font-size="45" fill="#262626">Averaged relative error (Frobenius norm)</text>
<rect x="230.3" y="1534.5" width="412.9" height="242.4" fill="#fff" stroke="#262626" stroke-width="2.8"/>
<path d="M242.8 1560.4H374.3" stroke="#0072BD" stroke-width="9.4" fill="none"/>
<text x="380.3" y="1573.7" font-size="35.5" fill="#000">L1-ALM</text>
<path d="M242.8 1609.3H374.3" stroke="#D95319" stroke-width="9.4" fill="none" stroke-dasharray="25.5 26"/>
<path d="M294.0 1609.3H322.6M308.3 1595.0V1623.6" stroke="#D95319" stroke-width="9.2" fill="none"/>
<text x="380.3" y="1622.6" font-size="35.5" fill="#000">L1-ADM</text>
<path d="M242.8 1657.3H374.3" stroke="#EDB120" stroke-width="9.4" fill="none" stroke-dasharray="25.5 6.7 12.8 6.7"/>
<text x="380.3" y="1670.6" font-size="35.5" fill="#000">Lq-ADM (q=0.5)</text>
<path d="M242.8 1702.3H374.3" stroke="#7E2F8E" stroke-width="9.4" fill="none" stroke-dasharray="6.5 6.5"/>
<circle cx="308.3" cy="1702.3" r="13.5" fill="#7E2F8E"/>
<text x="380.3" y="1715.6" font-size="35.5" fill="#000">Hard-ADM</text>
<path d="M242.8 1750.8H374.3" stroke="#77AC30" stroke-width="9.4" fill="none" stroke-dasharray="6.5 6.5"/>
<path d="M294.0 1750.8H322.6M308.3 1736.5V1765.1" stroke="#77AC30" stroke-width="9.2" fill="none"/>
<text x="380.3" y="1764.1" font-size="35.5" fill="#000">SCAD-ADM</text>
<rect x="937.6" y="1472.9" width="593.0" height="1104.6" fill="#fff"/>
<path d="M1001.9 1472.9V2577.5M1135.5 1472.9V2577.5M1267.9 1472.9V2577.5M1400.7 1472.9V2577.5M937.6 2396.3H1530.6M937.6 2211.6H1530.6M937.6 2026.7H1530.6M937.6 1841.5H1530.6M937.6 1657.0H1530.6" stroke="#dfdfdf" stroke-width="2.6" fill="none"/>
<path d="M1001.9 2577.5v-10M1001.9 1472.9v10M1135.5 2577.5v-10M1135.5 1472.9v10M1267.9 2577.5v-10M1267.9 1472.9v10M1400.7 2577.5v-10M1400.7 1472.9v10M937.6 2577.5h10M1530.6 2577.5h-10M937.6 2396.3h10M1530.6 2396.3h-10M937.6 2211.6h10M1530.6 2211.6h-10M937.6 2026.7h10M1530.6 2026.7h-10M937.6 1841.5h10M1530.6 1841.5h-10M937.6 1657.0h10M1530.6 1657.0h-10M937.6 1472.9h10M1530.6 1472.9h-10" stroke="#262626" stroke-width="2.8" fill="none"/>
<rect x="937.6" y="1472.9" width="593.0" height="1104.6" fill="none" stroke="#262626" stroke-width="2.8"/>
<clipPath id="clipBR"><rect x="917.6" y="1452.9" width="633.0" height="1144.6"/></clipPath>
<g><path d="M937.6 1502.4L940.3 1517.0L943.0 1531.6L945.6 1546.2L948.3 1560.8L951.0 1575.3L953.7 1589.9L956.4 1604.5L959.0 1619.0L961.7 1633.5L964.4 1648.0L967.1 1662.4L969.8 1676.9L972.4 1691.3L975.1 1705.7L977.8 1720.1L980.5 1734.4L983.1 1748.6L985.8 1762.8L988.5 1777.0L991.2 1791.1L993.9 1805.2L996.5 1819.2L999.2 1833.1L1001.9 1847.1L1007.5 1860.5L1013.0 1873.9L1018.6 1887.2L1024.2 1900.5L1029.7 1913.6L1035.3 1926.7L1040.9 1939.7L1046.4 1952.6L1052.0 1965.5L1057.6 1978.3L1063.1 1991.0L1068.7 2003.6L1074.3 2016.2L1079.8 2028.7L1085.4 2041.2L1091.0 2053.6L1096.5 2065.9L1102.1 2078.1L1107.7 2090.3L1113.2 2102.5L1118.8 2114.6L1124.4 2126.6L1129.9 2138.6L1135.5 2150.6L1146.5 2161.4L1157.6 2172.1L1168.6 2182.9L1179.6 2193.7L1190.7 2204.4L1201.7 2215.2L1212.7 2226.0L1223.8 2236.7L1234.8 2247.5L1245.8 2258.2L1256.9 2269.0L1267.9 2279.8L1279.0 2290.5L1290.0 2301.3L1301.1 2312.0L1312.2 2322.8L1323.2 2333.5L1334.3 2344.3L1345.4 2355.1L1356.4 2365.8L1367.5 2376.6L1378.6 2387.3L1389.6 2398.1L1400.7 2408.6L1406.2 2410.5L1411.7 2412.5L1417.2 2414.4L1422.8 2416.3L1428.3 2418.2L1433.8 2420.1L1439.3 2422.0L1444.8 2424.0L1450.3 2425.9L1455.9 2427.8L1461.4 2429.7L1466.9 2431.6L1472.4 2433.6L1477.9 2435.5L1483.5 2437.4L1489.0 2439.3L1494.5 2441.2L1500.0 2443.1L1505.5 2445.1L1511.0 2447.0L1516.5 2448.9L1522.1 2450.8L1527.6 2452.7L1533.1 2454.6" stroke="#0072BD" stroke-width="8.6" fill="none" stroke-linejoin="round"/><path d="M937.6 1492.0L940.3 1507.2L943.0 1522.3L945.6 1537.5L948.3 1552.6L951.0 1567.7L953.7 1582.8L956.4 1597.9L959.0 1613.0L961.7 1628.0L964.4 1643.0L967.1 1658.0L969.8 1673.0L972.4 1687.9L975.1 1702.8L977.8 1717.7L980.5 1732.5L983.1 1747.3L985.8 1762.0L988.5 1776.7L991.2 1791.3L993.9 1805.9L996.5 1820.4L999.2 1834.9L1001.9 1849.3L1007.5 1863.0L1013.0 1876.6L1018.6 1890.2L1024.2 1903.7L1029.7 1917.1L1035.3 1930.4L1040.9 1943.6L1046.4 1956.8L1052.0 1969.9L1057.6 1982.9L1063.1 1995.8L1068.7 2008.7L1074.3 2021.5L1079.8 2034.2L1085.4 2046.8L1091.0 2059.4L1096.5 2072.0L1102.1 2084.4L1107.7 2096.8L1113.2 2109.2L1118.8 2121.4L1124.4 2133.7L1129.9 2145.9L1135.5 2158.0L1146.5 2168.5L1157.6 2179.1L1168.6 2189.6L1179.6 2200.1L1190.7 2210.7L1201.7 2221.2L1212.7 2231.7L1223.8 2242.3L1234.8 2252.8L1245.8 2263.3L1256.9 2273.8L1267.9 2284.4L1279.0 2294.9L1290.0 2305.4L1301.1 2316.0L1312.2 2326.5L1323.2 2337.0L1334.3 2347.5L1345.4 2358.1L1356.4 2368.6L1367.5 2379.1L1378.6 2389.7L1389.6 2400.1L1400.7 2410.4L1406.2 2412.4L1411.7 2414.5L1417.2 2416.5L1422.8 2418.5L1428.3 2420.5L1433.8 2422.5L1439.3 2424.5L1444.8 2426.5L1450.3 2428.5L1455.9 2430.5L1461.4 2432.5L1466.9 2434.5L1472.4 2436.5L1477.9 2438.5L1483.5 2440.6L1489.0 2442.6L1494.5 2444.6L1500.0 2446.6L1505.5 2448.6L1511.0 2450.6L1516.5 2452.6L1522.1 2454.6L1527.6 2456.6L1533.1 2458.6" stroke="#D95319" stroke-width="8.6" fill="none" stroke-linejoin="round" stroke-dasharray="25.5 26"/><path d="M923.3 1492.0H951.9M937.6 1477.7V1506.3" stroke="#D95319" stroke-width="9.2" fill="none"/><path d="M987.6 1849.3H1016.2M1001.9 1835.0V1863.6" stroke="#D95319" stroke-width="9.2" fill="none"/><path d="M1121.2 2158.0H1149.8M1135.5 2143.7V2172.3" stroke="#D95319" stroke-width="9.2" fill="none"/><path d="M1386.4 2410.4H1415.0M1400.7 2396.1V2424.7" stroke="#D95319" stroke-width="9.2" fill="none"/><path d="M1518.8 2458.6H1547.4M1533.1 2444.3V2472.9" stroke="#D95319" stroke-width="9.2" fill="none"/><path d="M937.6 1599.9L940.3 1613.6L943.0 1627.2L945.6 1640.8L948.3 1654.4L951.0 1668.1L953.7 1681.7L956.4 1695.3L959.0 1708.9L961.7 1722.5L964.4 1736.0L967.1 1749.5L969.8 1763.0L972.4 1776.5L975.1 1790.0L977.8 1803.4L980.5 1816.8L983.1 1830.2L985.8 1843.5L988.5 1856.9L991.2 1870.2L993.9 1883.4L996.5 1896.7L999.2 1909.8L1001.9 1923.0L1007.5 1937.9L1013.0 1952.7L1018.6 1967.5L1024.2 1982.2L1029.7 1996.9L1035.3 2011.5L1040.9 2026.1L1046.4 2040.6L1052.0 2055.0L1057.6 2069.4L1063.1 2083.7L1068.7 2097.9L1074.3 2112.0L1079.8 2126.1L1085.4 2140.1L1091.0 2154.0L1096.5 2167.8L1102.1 2181.5L1107.7 2195.2L1113.2 2208.7L1118.8 2222.1L1124.4 2235.5L1129.9 2248.7L1135.5 2261.8L1146.5 2270.9L1157.6 2279.9L1168.6 2289.0L1179.6 2298.0L1190.7 2307.1L1201.7 2316.1L1212.7 2325.2L1223.8 2334.2L1234.8 2343.3L1245.8 2352.3L1256.9 2361.4L1267.9 2370.4L1279.0 2379.5L1290.0 2388.5L1301.1 2397.6L1312.2 2406.4L1323.2 2415.3L1334.3 2424.2L1345.4 2433.1L1356.4 2442.0L1367.5 2450.8L1378.6 2459.7L1389.6 2468.6L1400.7 2477.5L1406.2 2479.0L1411.7 2480.5L1417.2 2482.1L1422.8 2483.6L1428.3 2485.1L1433.8 2486.6L1439.3 2488.2L1444.8 2489.7L1450.3 2491.2L1455.9 2492.7L1461.4 2494.3L1466.9 2495.8L1472.4 2497.3L1477.9 2498.8L1483.5 2500.4L1489.0 2501.9L1494.5 2503.4L1500.0 2504.9L1505.5 2506.5L1511.0 2508.0L1516.5 2509.5L1522.1 2511.0L1527.6 2512.6L1533.1 2514.1" stroke="#EDB120" stroke-width="8.6" fill="none" stroke-linejoin="round" stroke-dasharray="25.5 6.7 12.8 6.7"/><path d="M937.6 1623.9L940.3 1639.8L943.0 1655.8L945.6 1671.8L948.3 1687.7L951.0 1703.7L953.7 1719.6L956.4 1735.6L959.0 1751.5L961.7 1767.3L964.4 1783.2L967.1 1799.0L969.8 1814.7L972.4 1830.5L975.1 1846.2L977.8 1861.9L980.5 1877.5L983.1 1893.1L985.8 1908.6L988.5 1924.1L991.2 1939.5L993.9 1954.8L996.5 1970.1L999.2 1985.3L1001.9 2000.4L1007.5 2013.2L1013.0 2026.0L1018.6 2038.6L1024.2 2051.2L1029.7 2063.6L1035.3 2076.0L1040.9 2088.3L1046.4 2100.5L1052.0 2112.6L1057.6 2124.6L1063.1 2136.6L1068.7 2148.5L1074.3 2160.3L1079.8 2172.1L1085.4 2183.8L1091.0 2195.4L1096.5 2207.0L1102.1 2218.5L1107.7 2230.0L1113.2 2241.4L1118.8 2252.8L1124.4 2264.1L1129.9 2275.4L1135.5 2286.6L1146.5 2296.2L1157.6 2305.9L1168.6 2315.5L1179.6 2325.2L1190.7 2334.8L1201.7 2344.5L1212.7 2354.1L1223.8 2363.8L1234.8 2373.4L1245.8 2383.1L1256.9 2392.7L1267.9 2402.3L1279.0 2411.7L1290.0 2421.2L1301.1 2430.7L1312.2 2440.2L1323.2 2449.6L1334.3 2459.1L1345.4 2468.6L1356.4 2478.0L1367.5 2487.5L1378.6 2497.0L1389.6 2506.4L1400.7 2515.9L1406.2 2517.7L1411.7 2519.4L1417.2 2521.2L1422.8 2523.0L1428.3 2524.7L1433.8 2526.5L1439.3 2528.3L1444.8 2530.0L1450.3 2531.8L1455.9 2533.6L1461.4 2535.3L1466.9 2537.1L1472.4 2538.9L1477.9 2540.6L1483.5 2542.4L1489.0 2544.2L1494.5 2545.9L1500.0 2547.7L1505.5 2549.5L1511.0 2551.2L1516.5 2553.0L1522.1 2554.8L1527.6 2556.5L1533.1 2558.3" stroke="#7E2F8E" stroke-width="8.6" fill="none" stroke-linejoin="round" stroke-dasharray="6.5 6.5"/><circle cx="937.6" cy="1623.9" r="13.5" fill="#7E2F8E"/><circle cx="1001.9" cy="2000.4" r="13.5" fill="#7E2F8E"/><circle cx="1135.5" cy="2286.6" r="13.5" fill="#7E2F8E"/><circle cx="1400.7" cy="2515.9" r="13.5" fill="#7E2F8E"/><circle cx="1533.1" cy="2558.3" r="13.5" fill="#7E2F8E"/><path d="M937.6 1619.1L940.3 1635.9L943.0 1652.8L945.6 1669.7L948.3 1686.6L951.0 1703.5L953.7 1720.3L956.4 1737.2L959.0 1754.0L961.7 1770.7L964.4 1787.5L967.1 1804.2L969.8 1820.8L972.4 1837.4L975.1 1854.0L977.8 1870.6L980.5 1887.1L983.1 1903.5L985.8 1919.8L988.5 1936.1L991.2 1952.2L993.9 1968.3L996.5 1984.3L999.2 2000.2L1001.9 2016.0L1007.5 2026.7L1013.0 2037.4L1018.6 2047.9L1024.2 2058.4L1029.7 2068.7L1035.3 2078.9L1040.9 2089.1L1046.4 2099.1L1052.0 2109.1L1057.6 2119.0L1063.1 2128.9L1068.7 2138.6L1074.3 2148.4L1079.8 2158.0L1085.4 2167.7L1091.0 2177.2L1096.5 2186.8L1102.1 2196.3L1107.7 2205.8L1113.2 2215.2L1118.8 2224.7L1124.4 2234.1L1129.9 2243.5L1135.5 2253.0L1146.5 2263.1L1157.6 2273.3L1168.6 2283.4L1179.6 2293.6L1190.7 2303.8L1201.7 2313.9L1212.7 2324.1L1223.8 2334.2L1234.8 2344.4L1245.8 2354.6L1256.9 2364.7L1267.9 2374.9L1279.0 2385.0L1290.0 2395.2L1301.1 2405.2L1312.2 2415.1L1323.2 2425.1L1334.3 2435.1L1345.4 2445.0L1356.4 2455.0L1367.5 2465.0L1378.6 2474.9L1389.6 2484.9L1400.7 2494.9L1406.2 2496.9L1411.7 2498.9L1417.2 2500.9L1422.8 2502.8L1428.3 2504.8L1433.8 2506.8L1439.3 2508.8L1444.8 2510.8L1450.3 2512.8L1455.9 2514.8L1461.4 2516.8L1466.9 2518.8L1472.4 2520.8L1477.9 2522.8L1483.5 2524.8L1489.0 2526.8L1494.5 2528.8L1500.0 2530.8L1505.5 2532.7L1511.0 2534.7L1516.5 2536.7L1522.1 2538.7L1527.6 2540.7L1533.1 2542.7" stroke="#77AC30" stroke-width="8.6" fill="none" stroke-linejoin="round" stroke-dasharray="6.5 6.5"/><path d="M923.3 1619.1H951.9M937.6 1604.8V1633.4" stroke="#77AC30" stroke-width="9.2" fill="none"/><path d="M987.6 2016.0H1016.2M1001.9 2001.7V2030.3" stroke="#77AC30" stroke-width="9.2" fill="none"/><path d="M1121.2 2253.0H1149.8M1135.5 2238.7V2267.3" stroke="#77AC30" stroke-width="9.2" fill="none"/><path d="M1386.4 2494.9H1415.0M1400.7 2480.6V2509.2" stroke="#77AC30" stroke-width="9.2" fill="none"/><path d="M1518.8 2542.7H1547.4M1533.1 2528.4V2557.0" stroke="#77AC30" stroke-width="9.2" fill="none"/></g>
<g font-size="41" fill="#262626"><text transform="translate(999.4 2634.9) scale(0.935 1)" text-anchor="middle">200</text><text transform="translate(1133.0 2634.9) scale(0.935 1)" text-anchor="middle">400</text><text transform="translate(1265.4 2634.9) scale(0.935 1)" text-anchor="middle">600</text><text transform="translate(1398.2 2634.9) scale(0.935 1)" text-anchor="middle">800</text><text transform="translate(1533.4 2634.9) scale(0.935 1)" text-anchor="middle">1000</text><text transform="translate(920.8 2591.4) scale(0.935 1)" text-anchor="end">1</text><text transform="translate(920.8 2410.2) scale(0.935 1)" text-anchor="end">1.5</text><text transform="translate(920.8 2225.5) scale(0.935 1)" text-anchor="end">2</text><text transform="translate(920.8 2040.6) scale(0.935 1)" text-anchor="end">2.5</text><text transform="translate(920.8 1855.4) scale(0.935 1)" text-anchor="end">3</text><text transform="translate(920.8 1670.9) scale(0.935 1)" text-anchor="end">3.5</text><text transform="translate(920.8 1486.8) scale(0.935 1)" text-anchor="end">4</text></g>
<text transform="translate(1234.1 2689.8) scale(0.956 1)" text-anchor="middle" font-size="45" fill="#262626">Number of samples (N)</text>
<text transform="translate(851.3 2026.1) rotate(-90) scale(0.956 1)" text-anchor="middle" font-size="45" fill="#262626">Averaged relative error (Spectral norm)</text>
<rect x="1028.1" y="1534.5" width="411.5" height="242.4" fill="#fff" stroke="#262626" stroke-width="2.8"/>
<path d="M1040.6 1560.4H1172.1" stroke="#0072BD" stroke-width="9.4" fill="none"/>
<text x="1178.1" y="1573.7" font-size="35.5" fill="#000">L1-ALM</text>
<path d="M1040.6 1609.3H1172.1" stroke="#D95319" stroke-width="9.4" fill="none" stroke-dasharray="25.5 26"/>
<path d="M1091.8 1609.3H1120.4M1106.1 1595.0V1623.6" stroke="#D95319" stroke-width="9.2" fill="none"/>
<text x="1178.1" y="1622.6" font-size="35.5" fill="#000">L1-ADM</text>
<path d="M1040.6 1657.3H1172.1" stroke="#EDB120" stroke-width="9.4" fill="none" stroke-dasharray="25.5 6.7 12.8 6.7"/>
<text x="1178.1" y="1670.6" font-size="35.5" fill="#000">Lq-ADM (q=0.5)</text>
<path d="M1040.6 1702.3H1172.1" stroke="#7E2F8E" stroke-width="9.4" fill="none" stroke-dasharray="6.5 6.5"/>
<circle cx="1106.1" cy="1702.3" r="13.5" fill="#7E2F8E"/>
<text x="1178.1" y="1715.6" font-size="35.5" fill="#000">Hard-ADM</text>
<path d="M1040.6 1750.8H1172.1" stroke="#77AC30" stroke-width="9.4" fill="none" stroke-dasharray="6.5 6.5"/>
<path d="M1091.8 1750.8H1120.4M1106.1 1736.5V1765.1" stroke="#77AC30" stroke-width="9.2" fill="none"/>
<text x="1178.1" y="1764.1" font-size="35.5" fill="#000">SCAD-ADM</text>
<rect x="115.6" y="2863.3" width="601.5" height="1120.7" fill="#fff"/>
<path d="M181.0 2863.3V3984.0M315.3 2863.3V3984.0M450.3 2863.3V3984.0M585.3 2863.3V3984.0M115.6 3846.2H717.1M115.6 3705.2H717.1M115.6 3563.8H717.1M115.6 3425.4H717.1M115.6 3283.7H717.1M115.6 3142.1H717.1M115.6 3001.4H717.1" stroke="#dfdfdf" stroke-width="2.6" fill="none"/>
<path d="M181.0 3984.0v-10M181.0 2863.3v10M315.3 3984.0v-10M315.3 2863.3v10M450.3 3984.0v-10M450.3 2863.3v10M585.3 3984.0v-10M585.3 2863.3v10M115.6 3984.0h10M717.1 3984.0h-10M115.6 3846.2h10M717.1 3846.2h-10M115.6 3705.2h10M717.1 3705.2h-10M115.6 3563.8h10M717.1 3563.8h-10M115.6 3425.4h10M717.1 3425.4h-10M115.6 3283.7h10M717.1 3283.7h-10M115.6 3142.1h10M717.1 3142.1h-10M115.6 3001.4h10M717.1 3001.4h-10M115.6 2863.3h10M717.1 2863.3h-10" stroke="#262626" stroke-width="2.8" fill="none"/>
<rect x="115.6" y="2863.3" width="601.5" height="1120.7" fill="none" stroke="#262626" stroke-width="2.8"/>
<clipPath id="clipCL"><rect x="95.6" y="2843.3" width="641.5" height="1160.7"/></clipPath>
<g><path d="M115.6 2889.5L118.3 2907.0L121.0 2924.4L123.8 2941.8L126.5 2959.2L129.2 2976.7L131.9 2994.0L134.7 3011.6L137.4 3029.3L140.1 3046.9L142.8 3064.5L145.6 3082.0L148.3 3099.5L151.0 3117.0L153.8 3134.3L156.5 3151.7L159.2 3169.1L161.9 3186.4L164.7 3203.6L167.4 3220.7L170.1 3237.8L172.8 3254.7L175.5 3271.6L178.3 3288.3L181.0 3305.0L186.6 3316.5L192.2 3327.9L197.8 3339.3L203.4 3350.5L209.0 3361.7L214.6 3372.7L220.2 3383.7L225.8 3394.6L231.4 3405.5L237.0 3416.2L242.6 3426.8L248.2 3437.2L253.7 3447.4L259.3 3457.6L264.9 3467.7L270.5 3477.7L276.1 3487.7L281.7 3497.6L287.3 3507.4L292.9 3517.2L298.5 3526.8L304.1 3536.5L309.7 3546.0L315.3 3555.5L326.6 3560.9L337.8 3566.3L349.1 3571.8L360.3 3577.2L371.6 3582.7L382.8 3588.2L394.1 3593.7L405.3 3599.2L416.6 3604.6L427.8 3610.1L439.0 3615.6L450.3 3621.1L461.5 3626.5L472.8 3632.0L484.1 3637.5L495.3 3643.0L506.5 3648.5L517.8 3653.9L529.0 3659.4L540.3 3664.9L551.5 3670.4L562.8 3675.9L574.0 3681.3L585.3 3686.8L590.9 3689.4L596.5 3691.9L602.1 3694.4L607.7 3697.0L613.3 3699.5L618.9 3702.0L624.5 3704.6L630.1 3707.1L635.7 3709.6L641.3 3712.1L646.9 3714.7L652.5 3717.2L658.1 3719.7L663.7 3722.2L669.3 3724.8L674.9 3727.3L680.5 3729.8L686.1 3732.3L691.7 3734.9L697.3 3737.4L702.9 3739.9L708.5 3742.4L714.1 3745.0L719.7 3747.5" stroke="#0072BD" stroke-width="8.6" fill="none" stroke-linejoin="round"/><path d="M115.6 2863.3L118.3 2881.9L121.0 2900.6L123.8 2919.2L126.5 2937.8L129.2 2956.4L131.9 2975.0L134.7 2993.6L137.4 3012.3L140.1 3031.2L142.8 3050.0L145.6 3068.7L148.3 3087.4L151.0 3106.0L153.8 3124.6L156.5 3143.1L159.2 3161.7L161.9 3180.1L164.7 3198.5L167.4 3216.7L170.1 3234.9L172.8 3252.9L175.5 3270.9L178.3 3288.7L181.0 3306.4L186.6 3317.3L192.2 3328.2L197.8 3338.9L203.4 3349.5L209.0 3360.1L214.6 3370.5L220.2 3380.9L225.8 3391.2L231.4 3401.3L237.0 3411.4L242.6 3421.4L248.2 3431.2L253.7 3440.9L259.3 3450.5L264.9 3460.0L270.5 3469.4L276.1 3478.8L281.7 3488.1L287.3 3497.4L292.9 3506.6L298.5 3515.8L304.1 3524.9L309.7 3534.0L315.3 3543.0L326.6 3549.2L337.8 3555.4L349.1 3561.6L360.3 3567.8L371.6 3574.1L382.8 3580.4L394.1 3586.7L405.3 3593.0L416.6 3599.3L427.8 3605.6L439.0 3611.9L450.3 3618.2L461.5 3624.5L472.8 3630.8L484.1 3637.2L495.3 3643.5L506.5 3649.8L517.8 3656.1L529.0 3662.4L540.3 3668.7L551.5 3675.0L562.8 3681.3L574.0 3687.6L585.3 3693.9L590.9 3696.4L596.5 3698.9L602.1 3701.4L607.7 3703.9L613.3 3706.4L618.9 3708.9L624.5 3711.4L630.1 3713.9L635.7 3716.4L641.3 3718.9L646.9 3721.4L652.5 3723.9L658.1 3726.4L663.7 3728.9L669.3 3731.4L674.9 3733.9L680.5 3736.4L686.1 3738.9L691.7 3741.4L697.3 3743.9L702.9 3746.4L708.5 3748.9L714.1 3751.3L719.7 3753.8" stroke="#D95319" stroke-width="8.6" fill="none" stroke-linejoin="round" stroke-dasharray="25.5 26"/><path d="M101.3 2863.3H129.9M115.6 2849.0V2877.6" stroke="#D95319" stroke-width="9.2" fill="none"/><path d="M166.7 3306.4H195.3M181.0 3292.1V3320.7" stroke="#D95319" stroke-width="9.2" fill="none"/><path d="M301.0 3543.0H329.6M315.3 3528.7V3557.3" stroke="#D95319" stroke-width="9.2" fill="none"/><path d="M571.0 3693.9H599.6M585.3 3679.6V3708.2" stroke="#D95319" stroke-width="9.2" fill="none"/><path d="M705.4 3753.8H734.0M719.7 3739.5V3768.1" stroke="#D95319" stroke-width="9.2" fill="none"/><path d="M115.6 3085.8L118.3 3100.4L121.0 3115.1L123.8 3129.7L126.5 3144.3L129.2 3159.0L131.9 3173.7L134.7 3188.4L137.4 3203.0L140.1 3217.6L142.8 3232.2L145.6 3246.7L148.3 3261.3L151.0 3275.7L153.8 3290.1L156.5 3304.5L159.2 3318.8L161.9 3333.1L164.7 3347.3L167.4 3361.5L170.1 3375.5L172.8 3389.5L175.5 3403.5L178.3 3417.3L181.0 3430.9L186.6 3440.9L192.2 3450.8L197.8 3460.6L203.4 3470.3L209.0 3480.0L214.6 3489.6L220.2 3499.1L225.8 3508.5L231.4 3517.9L237.0 3527.2L242.6 3536.5L248.2 3545.7L253.7 3554.8L259.3 3563.8L264.9 3573.0L270.5 3582.1L276.1 3591.2L281.7 3600.2L287.3 3609.1L292.9 3618.0L298.5 3626.8L304.1 3635.6L309.7 3644.2L315.3 3652.9L326.6 3658.0L337.8 3663.1L349.1 3668.3L360.3 3673.4L371.6 3678.5L382.8 3683.6L394.1 3688.8L405.3 3693.9L416.6 3699.0L427.8 3704.1L439.0 3709.3L450.3 3714.4L461.5 3719.5L472.8 3724.6L484.1 3729.7L495.3 3734.8L506.5 3739.9L517.8 3745.0L529.0 3750.1L540.3 3755.3L551.5 3760.4L562.8 3765.5L574.0 3770.6L585.3 3775.7L590.9 3777.7L596.5 3779.7L602.1 3781.7L607.7 3783.7L613.3 3785.7L618.9 3787.7L624.5 3789.7L630.1 3791.7L635.7 3793.7L641.3 3795.7L646.9 3797.7L652.5 3799.7L658.1 3801.7L663.7 3803.7L669.3 3805.7L674.9 3807.7L680.5 3809.7L686.1 3811.7L691.7 3813.7L697.3 3815.6L702.9 3817.6L708.5 3819.6L714.1 3821.6L719.7 3823.6" stroke="#EDB120" stroke-width="8.6" fill="none" stroke-linejoin="round" stroke-dasharray="25.5 6.7 12.8 6.7"/><path d="M115.6 3077.4L118.3 3092.7L121.0 3108.0L123.8 3123.3L126.5 3138.6L129.2 3153.9L131.9 3169.3L134.7 3184.6L137.4 3199.9L140.1 3215.2L142.8 3230.4L145.6 3245.6L148.3 3260.8L151.0 3275.9L153.8 3291.0L156.5 3306.0L159.2 3321.0L161.9 3335.9L164.7 3350.8L167.4 3365.5L170.1 3380.2L172.8 3394.8L175.5 3409.4L178.3 3423.8L181.0 3437.9L186.6 3447.7L192.2 3457.4L197.8 3467.0L203.4 3476.6L209.0 3486.1L214.6 3495.5L220.2 3504.8L225.8 3514.1L231.4 3523.3L237.0 3532.4L242.6 3541.5L248.2 3550.5L253.7 3559.4L259.3 3568.4L264.9 3577.4L270.5 3586.3L276.1 3595.2L281.7 3604.0L287.3 3612.7L292.9 3621.4L298.5 3630.1L304.1 3638.7L309.7 3647.2L315.3 3655.7L326.6 3661.0L337.8 3666.3L349.1 3671.6L360.3 3676.9L371.6 3682.2L382.8 3687.5L394.1 3692.8L405.3 3698.1L416.6 3703.4L427.8 3708.7L439.0 3714.0L450.3 3719.3L461.5 3724.6L472.8 3729.9L484.1 3735.2L495.3 3740.4L506.5 3745.7L517.8 3751.0L529.0 3756.3L540.3 3761.6L551.5 3766.9L562.8 3772.2L574.0 3777.5L585.3 3782.8L590.9 3784.7L596.5 3786.6L602.1 3788.6L607.7 3790.5L613.3 3792.4L618.9 3794.4L624.5 3796.3L630.1 3798.3L635.7 3800.2L641.3 3802.1L646.9 3804.1L652.5 3806.0L658.1 3808.0L663.7 3809.9L669.3 3811.8L674.9 3813.8L680.5 3815.7L686.1 3817.6L691.7 3819.6L697.3 3821.5L702.9 3823.5L708.5 3825.4L714.1 3827.3L719.7 3829.3" stroke="#7E2F8E" stroke-width="8.6" fill="none" stroke-linejoin="round" stroke-dasharray="6.5 6.5"/><circle cx="115.6" cy="3077.4" r="13.5" fill="#7E2F8E"/><circle cx="181.0" cy="3437.9" r="13.5" fill="#7E2F8E"/><circle cx="315.3" cy="3655.7" r="13.5" fill="#7E2F8E"/><circle cx="585.3" cy="3782.8" r="13.5" fill="#7E2F8E"/><circle cx="719.7" cy="3829.3" r="13.5" fill="#7E2F8E"/><path d="M115.6 3208.7L118.3 3219.5L121.0 3230.4L123.8 3241.2L126.5 3252.1L129.2 3262.9L131.9 3273.8L134.7 3284.6L137.4 3295.4L140.1 3306.2L142.8 3317.0L145.6 3327.7L148.3 3338.5L151.0 3349.2L153.8 3359.9L156.5 3370.5L159.2 3381.2L161.9 3391.8L164.7 3402.4L167.4 3412.9L170.1 3423.4L172.8 3433.7L175.5 3443.9L178.3 3454.0L181.0 3464.2L186.6 3474.6L192.2 3485.0L197.8 3495.4L203.4 3505.8L209.0 3516.1L214.6 3526.4L220.2 3536.6L225.8 3546.8L231.4 3556.9L237.0 3567.1L242.6 3577.3L248.2 3587.5L253.7 3597.6L259.3 3607.6L264.9 3617.6L270.5 3627.5L276.1 3637.3L281.7 3647.1L287.3 3656.7L292.9 3666.3L298.5 3675.8L304.1 3685.2L309.7 3694.6L315.3 3703.8L326.6 3708.5L337.8 3713.1L349.1 3717.8L360.3 3722.5L371.6 3727.1L382.8 3731.8L394.1 3736.5L405.3 3741.2L416.6 3745.8L427.8 3750.5L439.0 3755.2L450.3 3759.8L461.5 3764.5L472.8 3769.2L484.1 3773.8L495.3 3778.5L506.5 3783.2L517.8 3787.9L529.0 3792.5L540.3 3797.2L551.5 3801.9L562.8 3806.5L574.0 3811.2L585.3 3815.9L590.9 3817.6L596.5 3819.4L602.1 3821.1L607.7 3822.8L613.3 3824.6L618.9 3826.3L624.5 3828.0L630.1 3829.8L635.7 3831.5L641.3 3833.2L646.9 3834.9L652.5 3836.7L658.1 3838.4L663.7 3840.1L669.3 3841.9L674.9 3843.6L680.5 3845.3L686.1 3847.1L691.7 3848.8L697.3 3850.4L702.9 3852.1L708.5 3853.8L714.1 3855.5L719.7 3857.2" stroke="#77AC30" stroke-width="8.6" fill="none" stroke-linejoin="round" stroke-dasharray="6.5 6.5"/><path d="M101.3 3208.7H129.9M115.6 3194.4V3223.0" stroke="#77AC30" stroke-width="9.2" fill="none"/><path d="M166.7 3464.2H195.3M181.0 3449.9V3478.5" stroke="#77AC30" stroke-width="9.2" fill="none"/><path d="M301.0 3703.8H329.6M315.3 3689.5V3718.1" stroke="#77AC30" stroke-width="9.2" fill="none"/><path d="M571.0 3815.9H599.6M585.3 3801.6V3830.2" stroke="#77AC30" stroke-width="9.2" fill="none"/><path d="M705.4 3857.2H734.0M719.7 3842.9V3871.5" stroke="#77AC30" stroke-width="9.2" fill="none"/></g>
<g font-size="41" fill="#262626"><text transform="translate(178.5 4041.4) scale(0.935 1)" text-anchor="middle">200</text><text transform="translate(312.8 4041.4) scale(0.935 1)" text-anchor="middle">400</text><text transform="translate(447.8 4041.4) scale(0.935 1)" text-anchor="middle">600</text><text transform="translate(582.8 4041.4) scale(0.935 1)" text-anchor="middle">800</text><text transform="translate(720.0 4041.4) scale(0.935 1)" text-anchor="middle">1000</text><text transform="translate(98.8 3997.9) scale(0.935 1)" text-anchor="end">1</text><text transform="translate(98.8 3860.1) scale(0.935 1)" text-anchor="end">2</text><text transform="translate(98.8 3719.1) scale(0.935 1)" text-anchor="end">3</text><text transform="translate(98.8 3577.7) scale(0.935 1)" text-anchor="end">4</text><text transform="translate(98.8 3439.3) scale(0.935 1)" text-anchor="end">5</text><text transform="translate(98.8 3297.6) scale(0.935 1)" text-anchor="end">6</text><text transform="translate(98.8 3156.0) scale(0.935 1)" text-anchor="end">7</text><text transform="translate(98.8 3015.3) scale(0.935 1)" text-anchor="end">8</text><text transform="translate(98.8 2877.2) scale(0.935 1)" text-anchor="end">9</text></g>
<text transform="translate(416.4 4096.3) scale(0.956 1)" text-anchor="middle" font-size="45" fill="#262626">Number of samples (N)</text>
<text transform="translate(60.8 3419.3) rotate(-90) scale(0.956 1)" text-anchor="middle" font-size="45" fill="#262626">Averaged relative error (Frobenius norm)</text>
<rect x="207.2" y="2925.8" width="417.8" height="245.6" fill="#fff" stroke="#262626" stroke-width="2.8"/>
<path d="M219.7 2952.0H351.2" stroke="#0072BD" stroke-width="9.4" fill="none"/>
<text x="357.2" y="2965.3" font-size="35.5" fill="#000">L1-ALM</text>
<path d="M219.7 3001.6H351.2" stroke="#D95319" stroke-width="9.4" fill="none" stroke-dasharray="25.5 26"/>
<path d="M270.9 3001.6H299.5M285.2 2987.3V3015.9" stroke="#D95319" stroke-width="9.2" fill="none"/>
<text x="357.2" y="3014.9" font-size="35.5" fill="#000">L1-ADM</text>
<path d="M219.7 3050.2H351.2" stroke="#EDB120" stroke-width="9.4" fill="none" stroke-dasharray="25.5 6.7 12.8 6.7"/>
<text x="357.2" y="3063.5" font-size="35.5" fill="#000">Lq-ADM (q=0.5)</text>
<path d="M219.7 3095.8H351.2" stroke="#7E2F8E" stroke-width="9.4" fill="none" stroke-dasharray="6.5 6.5"/>
<circle cx="285.2" cy="3095.8" r="13.5" fill="#7E2F8E"/>
<text x="357.2" y="3109.1" font-size="35.5" fill="#000">Hard-ADM</text>
<path d="M219.7 3144.9H351.2" stroke="#77AC30" stroke-width="9.4" fill="none" stroke-dasharray="6.5 6.5"/>
<path d="M270.9 3144.9H299.5M285.2 3130.6V3159.2" stroke="#77AC30" stroke-width="9.2" fill="none"/>
<text x="357.2" y="3158.2" font-size="35.5" fill="#000">SCAD-ADM</text>
<rect x="924.5" y="2863.5" width="602.0" height="1120.5" fill="#fff"/>
<path d="M990.4 2863.5V3984.0M1125.0 2863.5V3984.0M1260.0 2863.5V3984.0M1394.0 2863.5V3984.0M924.5 3846.3H1526.5M924.5 3705.1H1526.5M924.5 3563.9H1526.5M924.5 3425.4H1526.5M924.5 3283.7H1526.5M924.5 3142.1H1526.5M924.5 3001.4H1526.5" stroke="#dfdfdf" stroke-width="2.6" fill="none"/>
<path d="M990.4 3984.0v-10M990.4 2863.5v10M1125.0 3984.0v-10M1125.0 2863.5v10M1260.0 3984.0v-10M1260.0 2863.5v10M1394.0 3984.0v-10M1394.0 2863.5v10M924.5 3984.0h10M1526.5 3984.0h-10M924.5 3846.3h10M1526.5 3846.3h-10M924.5 3705.1h10M1526.5 3705.1h-10M924.5 3563.9h10M1526.5 3563.9h-10M924.5 3425.4h10M1526.5 3425.4h-10M924.5 3283.7h10M1526.5 3283.7h-10M924.5 3142.1h10M1526.5 3142.1h-10M924.5 3001.4h10M1526.5 3001.4h-10M924.5 2863.5h10M1526.5 2863.5h-10" stroke="#262626" stroke-width="2.8" fill="none"/>
<rect x="924.5" y="2863.5" width="602.0" height="1120.5" fill="none" stroke="#262626" stroke-width="2.8"/>
<clipPath id="clipCR"><rect x="904.5" y="2843.5" width="642.0" height="1160.5"/></clipPath>
<g><path d="M924.5 3004.2L927.2 3018.0L930.0 3031.7L932.7 3045.5L935.5 3059.3L938.2 3073.0L941.0 3086.7L943.7 3100.4L946.5 3114.1L949.2 3127.8L952.0 3141.4L954.7 3155.1L957.5 3168.8L960.2 3182.4L962.9 3196.0L965.7 3209.5L968.4 3223.0L971.2 3236.5L973.9 3249.9L976.7 3263.2L979.4 3276.5L982.2 3289.7L984.9 3302.9L987.7 3316.0L990.4 3329.0L996.0 3340.0L1001.6 3350.9L1007.2 3361.7L1012.8 3372.5L1018.4 3383.2L1024.0 3393.9L1029.7 3404.4L1035.3 3415.0L1040.9 3425.4L1046.5 3435.6L1052.1 3445.7L1057.7 3455.7L1063.3 3465.6L1068.9 3475.5L1074.5 3485.3L1080.1 3495.0L1085.7 3504.6L1091.3 3514.1L1097.0 3523.6L1102.6 3532.9L1108.2 3542.2L1113.8 3551.4L1119.4 3560.5L1125.0 3569.5L1136.2 3573.3L1147.5 3577.0L1158.8 3580.7L1170.0 3584.5L1181.2 3588.2L1192.5 3591.9L1203.8 3595.7L1215.0 3599.4L1226.2 3603.1L1237.5 3606.8L1248.8 3610.6L1260.0 3614.3L1271.2 3618.0L1282.3 3621.8L1293.5 3625.5L1304.7 3629.2L1315.8 3633.0L1327.0 3636.7L1338.2 3640.4L1349.3 3644.1L1360.5 3647.9L1371.7 3651.6L1382.8 3655.3L1394.0 3659.1L1399.6 3661.8L1405.2 3664.4L1410.9 3667.1L1416.5 3669.8L1422.1 3672.5L1427.7 3675.2L1433.3 3677.8L1439.0 3680.5L1444.6 3683.2L1450.2 3685.9L1455.8 3688.6L1461.5 3691.3L1467.1 3693.9L1472.7 3696.6L1478.3 3699.3L1483.9 3702.0L1489.6 3704.7L1495.2 3707.4L1500.8 3710.0L1506.4 3712.7L1512.0 3715.4L1517.7 3718.1L1523.3 3720.8L1528.9 3723.5" stroke="#0072BD" stroke-width="8.6" fill="none" stroke-linejoin="round"/><path d="M924.5 2980.7L927.2 2995.5L930.0 3010.4L932.7 3025.4L935.5 3040.5L938.2 3055.5L941.0 3070.5L943.7 3085.5L946.5 3100.5L949.2 3115.4L952.0 3130.3L954.7 3145.2L957.5 3160.1L960.2 3175.0L962.9 3189.8L965.7 3204.6L968.4 3219.3L971.2 3234.0L973.9 3248.6L976.7 3263.1L979.4 3277.6L982.2 3292.0L984.9 3306.3L987.7 3320.6L990.4 3334.7L996.0 3345.1L1001.6 3355.4L1007.2 3365.7L1012.8 3375.8L1018.4 3385.9L1024.0 3396.0L1029.7 3405.9L1035.3 3415.8L1040.9 3425.6L1046.5 3435.1L1052.1 3444.6L1057.7 3454.0L1063.3 3463.3L1068.9 3472.5L1074.5 3481.7L1080.1 3490.8L1085.7 3499.8L1091.3 3508.8L1097.0 3517.7L1102.6 3526.5L1108.2 3535.3L1113.8 3544.0L1119.4 3552.6L1125.0 3561.1L1136.2 3565.6L1147.5 3570.0L1158.8 3574.5L1170.0 3579.0L1181.2 3583.5L1192.5 3588.0L1203.8 3592.5L1215.0 3596.9L1226.2 3601.4L1237.5 3605.9L1248.8 3610.4L1260.0 3614.9L1271.2 3619.4L1282.3 3623.8L1293.5 3628.3L1304.7 3632.8L1315.8 3637.3L1327.0 3641.8L1338.2 3646.3L1349.3 3650.7L1360.5 3655.2L1371.7 3659.7L1382.8 3664.2L1394.0 3668.7L1399.6 3671.2L1405.2 3673.6L1410.9 3676.1L1416.5 3678.6L1422.1 3681.1L1427.7 3683.6L1433.3 3686.0L1439.0 3688.5L1444.6 3691.0L1450.2 3693.5L1455.8 3696.0L1461.5 3698.5L1467.1 3700.9L1472.7 3703.4L1478.3 3705.9L1483.9 3708.4L1489.6 3710.9L1495.2 3713.4L1500.8 3715.8L1506.4 3718.3L1512.0 3720.8L1517.7 3723.3L1523.3 3725.8L1528.9 3728.3" stroke="#D95319" stroke-width="8.6" fill="none" stroke-linejoin="round" stroke-dasharray="25.5 26"/><path d="M910.2 2980.7H938.8M924.5 2966.4V2995.0" stroke="#D95319" stroke-width="9.2" fill="none"/><path d="M976.1 3334.7H1004.7M990.4 3320.4V3349.0" stroke="#D95319" stroke-width="9.2" fill="none"/><path d="M1110.7 3561.1H1139.3M1125.0 3546.8V3575.4" stroke="#D95319" stroke-width="9.2" fill="none"/><path d="M1379.7 3668.7H1408.3M1394.0 3654.4V3683.0" stroke="#D95319" stroke-width="9.2" fill="none"/><path d="M1514.6 3728.3H1543.2M1528.9 3714.0V3742.6" stroke="#D95319" stroke-width="9.2" fill="none"/><path d="M924.5 3184.6L927.2 3196.4L930.0 3208.2L932.7 3219.9L935.5 3231.7L938.2 3243.5L941.0 3255.2L943.7 3267.0L946.5 3278.7L949.2 3290.4L952.0 3302.1L954.7 3313.8L957.5 3325.4L960.2 3337.0L962.9 3348.6L965.7 3360.1L968.4 3371.7L971.2 3383.1L973.9 3394.6L976.7 3406.0L979.4 3417.3L982.2 3428.6L984.9 3439.6L987.7 3450.5L990.4 3461.4L996.0 3471.4L1001.6 3481.4L1007.2 3491.3L1012.8 3501.2L1018.4 3511.1L1024.0 3520.9L1029.7 3530.6L1035.3 3540.3L1040.9 3550.0L1046.5 3559.6L1052.1 3569.2L1057.7 3578.8L1063.3 3588.4L1068.9 3597.9L1074.5 3607.3L1080.1 3616.7L1085.7 3625.9L1091.3 3635.1L1097.0 3644.2L1102.6 3653.2L1108.2 3662.1L1113.8 3670.9L1119.4 3679.6L1125.0 3688.2L1136.2 3691.3L1147.5 3694.3L1158.8 3697.4L1170.0 3700.5L1181.2 3703.6L1192.5 3706.7L1203.8 3709.8L1215.0 3712.9L1226.2 3716.0L1237.5 3719.1L1248.8 3722.2L1260.0 3725.3L1271.2 3728.4L1282.3 3731.5L1293.5 3734.6L1304.7 3737.7L1315.8 3740.8L1327.0 3743.9L1338.2 3747.0L1349.3 3750.0L1360.5 3753.1L1371.7 3756.2L1382.8 3759.3L1394.0 3762.4L1399.6 3765.0L1405.2 3767.7L1410.9 3770.3L1416.5 3772.9L1422.1 3775.5L1427.7 3778.1L1433.3 3780.7L1439.0 3783.3L1444.6 3785.9L1450.2 3788.5L1455.8 3791.2L1461.5 3793.8L1467.1 3796.4L1472.7 3799.0L1478.3 3801.6L1483.9 3804.2L1489.6 3806.8L1495.2 3809.4L1500.8 3812.1L1506.4 3814.7L1512.0 3817.3L1517.7 3819.9L1523.3 3822.5L1528.9 3825.1" stroke="#EDB120" stroke-width="8.6" fill="none" stroke-linejoin="round" stroke-dasharray="25.5 6.7 12.8 6.7"/><path d="M924.5 3173.3L927.2 3186.1L930.0 3199.0L932.7 3211.9L935.5 3224.8L938.2 3237.7L941.0 3250.5L943.7 3263.4L946.5 3276.2L949.2 3289.0L952.0 3301.8L954.7 3314.5L957.5 3327.3L960.2 3339.9L962.9 3352.6L965.7 3365.2L968.4 3377.8L971.2 3390.3L973.9 3402.8L976.7 3415.2L979.4 3427.5L982.2 3439.5L984.9 3451.5L987.7 3463.4L990.4 3475.3L996.0 3485.0L1001.6 3494.6L1007.2 3504.3L1012.8 3513.8L1018.4 3523.3L1024.0 3532.8L1029.7 3542.2L1035.3 3551.5L1040.9 3560.7L1046.5 3570.1L1052.1 3579.4L1057.7 3588.6L1063.3 3597.8L1068.9 3606.9L1074.5 3616.0L1080.1 3624.9L1085.7 3633.8L1091.3 3642.6L1097.0 3651.4L1102.6 3660.0L1108.2 3668.6L1113.8 3677.1L1119.4 3685.5L1125.0 3693.8L1136.2 3697.2L1147.5 3700.7L1158.8 3704.1L1170.0 3707.5L1181.2 3711.0L1192.5 3714.4L1203.8 3717.9L1215.0 3721.3L1226.2 3724.7L1237.5 3728.2L1248.8 3731.6L1260.0 3735.0L1271.2 3738.5L1282.3 3741.9L1293.5 3745.3L1304.7 3748.8L1315.8 3752.2L1327.0 3755.6L1338.2 3759.1L1349.3 3762.5L1360.5 3766.0L1371.7 3769.4L1382.8 3772.8L1394.0 3776.3L1399.6 3778.7L1405.2 3781.2L1410.9 3783.6L1416.5 3786.1L1422.1 3788.5L1427.7 3790.9L1433.3 3793.4L1439.0 3795.8L1444.6 3798.3L1450.2 3800.7L1455.8 3803.2L1461.5 3805.6L1467.1 3808.1L1472.7 3810.5L1478.3 3813.0L1483.9 3815.4L1489.6 3817.9L1495.2 3820.3L1500.8 3822.8L1506.4 3825.2L1512.0 3827.7L1517.7 3830.1L1523.3 3832.6L1528.9 3835.0" stroke="#7E2F8E" stroke-width="8.6" fill="none" stroke-linejoin="round" stroke-dasharray="6.5 6.5"/><circle cx="924.5" cy="3173.3" r="13.5" fill="#7E2F8E"/><circle cx="990.4" cy="3475.3" r="13.5" fill="#7E2F8E"/><circle cx="1125.0" cy="3693.8" r="13.5" fill="#7E2F8E"/><circle cx="1394.0" cy="3776.3" r="13.5" fill="#7E2F8E"/><circle cx="1528.9" cy="3835.0" r="13.5" fill="#7E2F8E"/><path d="M924.5 3278.0L927.2 3287.6L930.0 3297.2L932.7 3306.8L935.5 3316.4L938.2 3326.0L941.0 3335.5L943.7 3345.1L946.5 3354.6L949.2 3364.2L952.0 3373.7L954.7 3383.2L957.5 3392.7L960.2 3402.1L962.9 3411.6L965.7 3421.0L968.4 3430.3L971.2 3439.5L973.9 3448.6L976.7 3457.8L979.4 3466.9L982.2 3475.9L984.9 3485.0L987.7 3494.0L990.4 3503.0L996.0 3513.1L1001.6 3523.2L1007.2 3533.2L1012.8 3543.3L1018.4 3553.4L1024.0 3563.4L1029.7 3573.6L1035.3 3583.7L1040.9 3593.8L1046.5 3603.8L1052.1 3613.8L1057.7 3623.8L1063.3 3633.6L1068.9 3643.4L1074.5 3653.1L1080.1 3662.8L1085.7 3672.3L1091.3 3681.8L1097.0 3691.1L1102.6 3700.3L1108.2 3709.5L1113.8 3718.5L1119.4 3727.4L1125.0 3736.2L1136.2 3739.0L1147.5 3741.8L1158.8 3744.6L1170.0 3747.4L1181.2 3750.2L1192.5 3753.0L1203.8 3755.8L1215.0 3758.7L1226.2 3761.5L1237.5 3764.3L1248.8 3767.1L1260.0 3769.9L1271.2 3772.7L1282.3 3775.5L1293.5 3778.3L1304.7 3781.2L1315.8 3784.0L1327.0 3786.8L1338.2 3789.6L1349.3 3792.4L1360.5 3795.2L1371.7 3798.0L1382.8 3800.8L1394.0 3803.7L1399.6 3805.9L1405.2 3808.1L1410.9 3810.3L1416.5 3812.5L1422.1 3814.7L1427.7 3816.9L1433.3 3819.1L1439.0 3821.3L1444.6 3823.5L1450.2 3825.7L1455.8 3827.9L1461.5 3830.1L1467.1 3832.3L1472.7 3834.5L1478.3 3836.7L1483.9 3838.9L1489.6 3841.1L1495.2 3843.3L1500.8 3845.5L1506.4 3847.6L1512.0 3849.8L1517.7 3851.9L1523.3 3854.1L1528.9 3856.2" stroke="#77AC30" stroke-width="8.6" fill="none" stroke-linejoin="round" stroke-dasharray="6.5 6.5"/><path d="M910.2 3278.0H938.8M924.5 3263.7V3292.3" stroke="#77AC30" stroke-width="9.2" fill="none"/><path d="M976.1 3503.0H1004.7M990.4 3488.7V3517.3" stroke="#77AC30" stroke-width="9.2" fill="none"/><path d="M1110.7 3736.2H1139.3M1125.0 3721.9V3750.5" stroke="#77AC30" stroke-width="9.2" fill="none"/><path d="M1379.7 3803.7H1408.3M1394.0 3789.4V3818.0" stroke="#77AC30" stroke-width="9.2" fill="none"/><path d="M1514.6 3856.2H1543.2M1528.9 3841.9V3870.5" stroke="#77AC30" stroke-width="9.2" fill="none"/></g>
<g font-size="41" fill="#262626"><text transform="translate(987.9 4041.4) scale(0.935 1)" text-anchor="middle">200</text><text transform="translate(1122.5 4041.4) scale(0.935 1)" text-anchor="middle">400</text><text transform="translate(1257.5 4041.4) scale(0.935 1)" text-anchor="middle">600</text><text transform="translate(1391.5 4041.4) scale(0.935 1)" text-anchor="middle">800</text><text transform="translate(1529.2 4041.4) scale(0.935 1)" text-anchor="middle">1000</text><text transform="translate(907.7 3997.9) scale(0.935 1)" text-anchor="end">0.5</text><text transform="translate(907.7 3860.2) scale(0.935 1)" text-anchor="end">1</text><text transform="translate(907.7 3719.0) scale(0.935 1)" text-anchor="end">1.5</text><text transform="translate(907.7 3577.8) scale(0.935 1)" text-anchor="end">2</text><text transform="translate(907.7 3439.3) scale(0.935 1)" text-anchor="end">2.5</text><text transform="translate(907.7 3297.6) scale(0.935 1)" text-anchor="end">3</text><text transform="translate(907.7 3156.0) scale(0.935 1)" text-anchor="end">3.5</text><text transform="translate(907.7 3015.3) scale(0.935 1)" text-anchor="end">4</text><text transform="translate(907.7 2877.4) scale(0.935 1)" text-anchor="end">4.5</text></g>
<text transform="translate(1225.5 4096.3) scale(0.956 1)" text-anchor="middle" font-size="45" fill="#262626">Number of samples (N)</text>
<text transform="translate(837.0 3419.4) rotate(-90) scale(0.956 1)" text-anchor="middle" font-size="45" fill="#262626">Averaged relative error (Spectral norm)</text>
<rect x="1016.7" y="2925.8" width="418.3" height="245.6" fill="#fff" stroke="#262626" stroke-width="2.8"/>
<path d="M1029.2 2952.0H1160.7" stroke="#0072BD" stroke-width="9.4" fill="none"/>
<text x="1166.7" y="2965.3" font-size="35.5" fill="#000">L1-ALM</text>
<path d="M1029.2 3001.6H1160.7" stroke="#D95319" stroke-width="9.4" fill="none" stroke-dasharray="25.5 26"/>
<path d="M1080.4 3001.6H1109.0M1094.7 2987.3V3015.9" stroke="#D95319" stroke-width="9.2" fill="none"/>
<text x="1166.7" y="3014.9" font-size="35.5" fill="#000">L1-ADM</text>
<path d="M1029.2 3050.2H1160.7" stroke="#EDB120" stroke-width="9.4" fill="none" stroke-dasharray="25.5 6.7 12.8 6.7"/>
<text x="1166.7" y="3063.5" font-size="35.5" fill="#000">Lq-ADM (q=0.5)</text>
<path d="M1029.2 3095.8H1160.7" stroke="#7E2F8E" stroke-width="9.4" fill="none" stroke-dasharray="6.5 6.5"/>
<circle cx="1094.7" cy="3095.8" r="13.5" fill="#7E2F8E"/>
<text x="1166.7" y="3109.1" font-size="35.5" fill="#000">Hard-ADM</text>
<path d="M1029.2 3144.9H1160.7" stroke="#77AC30" stroke-width="9.4" fill="none" stroke-dasharray="6.5 6.5"/>
<path d="M1080.4 3144.9H1109.0M1094.7 3130.6V3159.2" stroke="#77AC30" stroke-width="9.2" fill="none"/>
<text x="1166.7" y="3158.2" font-size="35.5" fill="#000">SCAD-ADM</text>
<text transform="translate(804.6 1410) scale(0.955 1)" text-anchor="middle" font-family="'Liberation Serif', 'Times New Roman', serif" font-size="86" fill="#000">(<tspan font-weight="bold">a</tspan>)</text>
<text transform="translate(804.6 2806.5) scale(1.016 1)" text-anchor="middle" font-family="'Liberation Serif', 'Times New Roman', serif" font-size="86" fill="#000">(<tspan font-weight="bold">b</tspan>)</text>
<text transform="translate(804.6 4232) scale(0.956 1)" text-anchor="middle" font-family="'Liberation Serif', 'Times New Roman', serif" font-size="86" fill="#000">(<tspan font-weight="bold">c</tspan>)</text>
</svg>
</body></html>
